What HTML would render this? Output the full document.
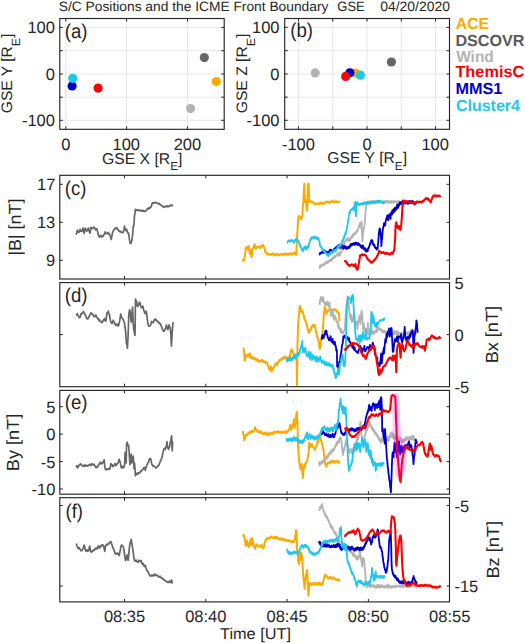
<!DOCTYPE html>
<html><head><meta charset="utf-8"><style>
html,body{margin:0;padding:0;background:#fff;}
svg{display:block;font-family:"Liberation Sans", sans-serif;text-rendering:geometricPrecision;}
</style></head><body>
<svg width="525" height="643" viewBox="0 0 525 643">
<defs><clipPath id="cp0"><rect x="59.8" y="175.3" width="389.70" height="103.70"/></clipPath><clipPath id="cp1"><rect x="59.8" y="282.6" width="389.70" height="104.10"/></clipPath><clipPath id="cp2"><rect x="59.8" y="390.4" width="389.70" height="103.80"/></clipPath><clipPath id="cp3"><rect x="59.8" y="497.7" width="389.70" height="104.20"/></clipPath></defs>
<rect width="525" height="643" fill="#fff"/>
<text transform="translate(58.83 10.80) scale(1.0205 1)" font-size="13.5" fill="#262626">S/C Positions and the ICME Front Boundary</text>
<text transform="translate(337.30 10.80) scale(0.9608 1)" font-size="13.5" fill="#262626">GSE</text>
<text transform="translate(380.23 10.80) scale(1.0307 1)" font-size="13.5" fill="#262626">04/20/2020</text>
<line x1="59.8" y1="27.4" x2="224.2" y2="27.4" stroke="#e6e6e6" stroke-width="1"/>
<line x1="59.8" y1="50.7" x2="224.2" y2="50.7" stroke="#e6e6e6" stroke-width="1"/>
<line x1="59.8" y1="74.0" x2="224.2" y2="74.0" stroke="#e6e6e6" stroke-width="1"/>
<line x1="59.8" y1="97.2" x2="224.2" y2="97.2" stroke="#e6e6e6" stroke-width="1"/>
<line x1="59.8" y1="120.3" x2="224.2" y2="120.3" stroke="#e6e6e6" stroke-width="1"/>
<line x1="65.8" y1="18.5" x2="65.8" y2="129.3" stroke="#e6e6e6" stroke-width="1"/>
<line x1="126.6" y1="18.5" x2="126.6" y2="129.3" stroke="#e6e6e6" stroke-width="1"/>
<line x1="187.5" y1="18.5" x2="187.5" y2="129.3" stroke="#e6e6e6" stroke-width="1"/>
<circle cx="204.3" cy="57.6" r="4.6" fill="#666666"/>
<circle cx="216.3" cy="81.6" r="4.6" fill="#fcaa00"/>
<circle cx="190.65" cy="108.6" r="4.6" fill="#b3b3b3"/>
<circle cx="98.1" cy="88.1" r="4.6" fill="#ff0000"/>
<circle cx="72.1" cy="85.9" r="4.6" fill="#0000cc"/>
<circle cx="72.7" cy="78.3" r="4.6" fill="#1fc8ea"/>
<rect x="59.8" y="18.5" width="164.40" height="110.80" fill="none" stroke="#262626" stroke-width="1.15"/>
<line x1="59.8" y1="27.4" x2="62.8" y2="27.4" stroke="#262626" stroke-width="1.0"/>
<line x1="221.2" y1="27.4" x2="224.2" y2="27.4" stroke="#262626" stroke-width="1.0"/>
<line x1="59.8" y1="50.7" x2="62.8" y2="50.7" stroke="#262626" stroke-width="1.0"/>
<line x1="221.2" y1="50.7" x2="224.2" y2="50.7" stroke="#262626" stroke-width="1.0"/>
<line x1="59.8" y1="74.0" x2="62.8" y2="74.0" stroke="#262626" stroke-width="1.0"/>
<line x1="221.2" y1="74.0" x2="224.2" y2="74.0" stroke="#262626" stroke-width="1.0"/>
<line x1="59.8" y1="97.2" x2="62.8" y2="97.2" stroke="#262626" stroke-width="1.0"/>
<line x1="221.2" y1="97.2" x2="224.2" y2="97.2" stroke="#262626" stroke-width="1.0"/>
<line x1="59.8" y1="120.3" x2="62.8" y2="120.3" stroke="#262626" stroke-width="1.0"/>
<line x1="221.2" y1="120.3" x2="224.2" y2="120.3" stroke="#262626" stroke-width="1.0"/>
<line x1="65.8" y1="129.3" x2="65.8" y2="126.30000000000001" stroke="#262626" stroke-width="1.0"/>
<line x1="65.8" y1="18.5" x2="65.8" y2="21.5" stroke="#262626" stroke-width="1.0"/>
<line x1="126.6" y1="129.3" x2="126.6" y2="126.30000000000001" stroke="#262626" stroke-width="1.0"/>
<line x1="126.6" y1="18.5" x2="126.6" y2="21.5" stroke="#262626" stroke-width="1.0"/>
<line x1="187.5" y1="129.3" x2="187.5" y2="126.30000000000001" stroke="#262626" stroke-width="1.0"/>
<line x1="187.5" y1="18.5" x2="187.5" y2="21.5" stroke="#262626" stroke-width="1.0"/>
<text x="27.40" y="33.20" font-size="16.5" fill="#262626">100</text>
<text x="45.76" y="79.80" font-size="16.5" fill="#262626">0</text>
<text x="21.92" y="126.10" font-size="16.5" fill="#262626">-100</text>
<text x="61.22" y="149.80" font-size="16.5" fill="#262626">0</text>
<text x="112.53" y="149.80" font-size="16.5" fill="#262626">100</text>
<text x="173.64" y="149.80" font-size="16.5" fill="#262626">200</text>
<text transform="translate(64.69 37.50) scale(0.93 1)" font-size="20" fill="#262626">(a)</text>
<text transform="translate(101.96 163.50) scale(1.0101 1)" font-size="15.6" fill="#262626">GSE X [R<tspan font-size="11.6" dy="6.7">E</tspan><tspan dy="-6.7">]</tspan></text>
<text transform="translate(12.10 113.23) rotate(-90) scale(1.0259 1)" font-size="15.2" fill="#262626">GSE Y [R<tspan font-size="12.0" dy="7.8">E</tspan><tspan dy="-7.8">]</tspan></text>
<line x1="284.7" y1="27.4" x2="449.5" y2="27.4" stroke="#e6e6e6" stroke-width="1"/>
<line x1="284.7" y1="50.7" x2="449.5" y2="50.7" stroke="#e6e6e6" stroke-width="1"/>
<line x1="284.7" y1="74.0" x2="449.5" y2="74.0" stroke="#e6e6e6" stroke-width="1"/>
<line x1="284.7" y1="97.2" x2="449.5" y2="97.2" stroke="#e6e6e6" stroke-width="1"/>
<line x1="284.7" y1="120.3" x2="449.5" y2="120.3" stroke="#e6e6e6" stroke-width="1"/>
<line x1="298.5" y1="18.5" x2="298.5" y2="129.3" stroke="#e6e6e6" stroke-width="1"/>
<line x1="332.75" y1="18.5" x2="332.75" y2="129.3" stroke="#e6e6e6" stroke-width="1"/>
<line x1="367.0" y1="18.5" x2="367.0" y2="129.3" stroke="#e6e6e6" stroke-width="1"/>
<line x1="401.25" y1="18.5" x2="401.25" y2="129.3" stroke="#e6e6e6" stroke-width="1"/>
<line x1="435.5" y1="18.5" x2="435.5" y2="129.3" stroke="#e6e6e6" stroke-width="1"/>
<circle cx="315.2" cy="72.9" r="4.6" fill="#b3b3b3"/>
<circle cx="391.4" cy="62.0" r="4.6" fill="#666666"/>
<circle cx="355.7" cy="73.0" r="4.6" fill="#fcaa00"/>
<circle cx="349.9" cy="72.8" r="4.6" fill="#0000cc"/>
<circle cx="345.7" cy="76.4" r="4.6" fill="#ff0000"/>
<circle cx="360.4" cy="75.2" r="4.6" fill="#1fc8ea"/>
<rect x="284.7" y="18.5" width="164.80" height="110.80" fill="none" stroke="#262626" stroke-width="1.15"/>
<line x1="284.7" y1="27.4" x2="287.7" y2="27.4" stroke="#262626" stroke-width="1.0"/>
<line x1="446.5" y1="27.4" x2="449.5" y2="27.4" stroke="#262626" stroke-width="1.0"/>
<line x1="284.7" y1="50.7" x2="287.7" y2="50.7" stroke="#262626" stroke-width="1.0"/>
<line x1="446.5" y1="50.7" x2="449.5" y2="50.7" stroke="#262626" stroke-width="1.0"/>
<line x1="284.7" y1="74.0" x2="287.7" y2="74.0" stroke="#262626" stroke-width="1.0"/>
<line x1="446.5" y1="74.0" x2="449.5" y2="74.0" stroke="#262626" stroke-width="1.0"/>
<line x1="284.7" y1="97.2" x2="287.7" y2="97.2" stroke="#262626" stroke-width="1.0"/>
<line x1="446.5" y1="97.2" x2="449.5" y2="97.2" stroke="#262626" stroke-width="1.0"/>
<line x1="284.7" y1="120.3" x2="287.7" y2="120.3" stroke="#262626" stroke-width="1.0"/>
<line x1="446.5" y1="120.3" x2="449.5" y2="120.3" stroke="#262626" stroke-width="1.0"/>
<line x1="298.5" y1="129.3" x2="298.5" y2="126.30000000000001" stroke="#262626" stroke-width="1.0"/>
<line x1="298.5" y1="18.5" x2="298.5" y2="21.5" stroke="#262626" stroke-width="1.0"/>
<line x1="332.75" y1="129.3" x2="332.75" y2="126.30000000000001" stroke="#262626" stroke-width="1.0"/>
<line x1="332.75" y1="18.5" x2="332.75" y2="21.5" stroke="#262626" stroke-width="1.0"/>
<line x1="367.0" y1="129.3" x2="367.0" y2="126.30000000000001" stroke="#262626" stroke-width="1.0"/>
<line x1="367.0" y1="18.5" x2="367.0" y2="21.5" stroke="#262626" stroke-width="1.0"/>
<line x1="401.25" y1="129.3" x2="401.25" y2="126.30000000000001" stroke="#262626" stroke-width="1.0"/>
<line x1="401.25" y1="18.5" x2="401.25" y2="21.5" stroke="#262626" stroke-width="1.0"/>
<line x1="435.5" y1="129.3" x2="435.5" y2="126.30000000000001" stroke="#262626" stroke-width="1.0"/>
<line x1="435.5" y1="18.5" x2="435.5" y2="21.5" stroke="#262626" stroke-width="1.0"/>
<text x="252.00" y="33.20" font-size="16.5" fill="#262626">100</text>
<text x="270.36" y="79.80" font-size="16.5" fill="#262626">0</text>
<text x="246.52" y="126.10" font-size="16.5" fill="#262626">-100</text>
<text x="281.94" y="149.80" font-size="16.5" fill="#262626">-100</text>
<text x="362.42" y="149.80" font-size="16.5" fill="#262626">0</text>
<text x="421.43" y="149.80" font-size="16.5" fill="#262626">100</text>
<text transform="translate(290.19 37.30) scale(0.93 1)" font-size="20" fill="#262626">(b)</text>
<text transform="translate(327.36 163.30) scale(1.0071 1)" font-size="15.6" fill="#262626">GSE Y [R<tspan font-size="11.6" dy="6.7">E</tspan><tspan dy="-6.7">]</tspan></text>
<text transform="translate(246.90 113.23) rotate(-90) scale(1.0301 1)" font-size="15.2" fill="#262626">GSE Z [R<tspan font-size="12.0" dy="7.8">E</tspan><tspan dy="-7.8">]</tspan></text>
<text transform="translate(455.76 29.30) scale(0.9860 1)" font-size="16" font-weight="bold" fill="#fcaa00">ACE</text>
<text transform="translate(455.46 45.60) scale(1.0084 1)" font-size="16" font-weight="bold" fill="#5a5a5a">DSCOVR</text>
<text transform="translate(456.15 61.60) scale(0.9652 1)" font-size="16" font-weight="bold" fill="#b3b3b3">Wind</text>
<text transform="translate(455.39 77.40) scale(1.0200 1)" font-size="16" font-weight="bold" fill="#ff0000">ThemisC</text>
<text transform="translate(455.45 94.20) scale(1.0152 1)" font-size="16" font-weight="bold" fill="#0000cc">MMS1</text>
<text transform="translate(455.91 110.80) scale(0.9997 1)" font-size="16" font-weight="bold" fill="#1fc8ea">Cluster4</text>
<g clip-path="url(#cp0)" fill="none" stroke-width="1.7" stroke-linejoin="round">
<polyline points="75.9,234.6 76.6,233.2 77.3,230.2 78.1,231.9 78.8,232.4 79.4,231.5 80.1,229.2 80.8,231.1 81.5,231.5 82.3,230.2 83.0,228.0 83.6,231.4 84.2,233.3 84.7,231.3 85.1,228.2 85.6,229.7 86.2,229.7 86.8,231.2 87.3,229.3 87.9,229.1 88.4,228.0 89.2,231.3 89.9,233.2 90.4,230.9 91.0,227.3 91.5,228.1 92.1,228.0 92.6,228.7 93.4,227.4 94.1,227.2 94.8,228.0 95.6,229.8 96.2,228.8 96.8,228.8 97.6,231.4 98.3,234.9 98.8,235.4 99.3,237.3 99.9,236.2 100.5,236.4 101.0,235.3 101.7,236.9 102.5,236.7 103.2,236.1 103.9,234.4 104.6,234.0 105.2,231.8 105.9,233.3 106.7,233.3 107.4,233.7 108.1,232.5 108.7,233.8 109.3,233.6 109.8,235.3 110.5,236.6 111.3,239.4 111.9,235.7 112.5,232.9 113.3,230.7 114.0,229.9 114.6,228.9 115.1,229.0 115.7,227.7 116.4,228.5 117.1,227.8 117.9,229.7 118.6,230.3 119.2,231.4 119.7,231.0 120.3,232.0 120.8,231.5 121.4,232.2 122.0,232.2 122.7,232.7 123.4,231.7 124.0,229.7 124.5,226.1 125.0,228.7 125.5,230.3 126.0,230.6 126.6,229.1 127.1,231.5 127.6,232.2 128.1,233.5 128.7,233.4 129.1,237.4 129.5,239.7 129.9,242.1 130.3,243.4 130.9,243.5 131.4,242.2 131.9,240.0 132.4,236.4 132.9,232.1 133.3,225.9 133.9,225.8 134.5,215.5 135.0,213.2 135.4,209.3 135.9,210.1 136.5,209.8 137.0,210.6 137.7,209.8 138.4,210.4 139.1,210.0 139.8,210.8 140.5,210.3 141.2,211.0 141.9,210.4 142.6,211.1 143.3,210.3 143.9,211.2 144.5,211.0 145.0,211.6 145.7,210.5 146.5,210.5 147.2,208.9 147.9,209.1 148.5,207.9 149.1,208.7 149.6,207.8 150.2,208.0 150.7,206.6 151.3,206.7 151.7,204.8 152.1,203.5 152.7,202.7 153.3,203.2 153.8,202.6 154.5,203.1 155.2,202.3 155.9,202.7 156.6,202.6 157.3,203.4 158.0,203.2 158.7,204.0 159.4,203.6 160.1,204.7 160.8,204.7 161.5,205.7 162.2,205.8 162.7,206.6 163.3,206.4 163.9,207.3 164.6,206.7 165.3,207.0 166.1,206.0 166.8,206.3 167.4,205.9 167.9,206.9 168.5,206.4 169.0,206.3 169.6,205.6 170.2,205.9 170.9,205.1 171.6,205.5 172.1,205.1 172.7,206.3" stroke="#666666" stroke-width="1.7"/>
<polyline points="242.6,259.2 243.1,261.0 243.6,260.7 244.1,259.5 244.7,257.2 245.2,253.6 245.7,247.9 246.2,248.1 246.8,246.8 247.3,248.8 247.8,249.0 248.3,248.0 248.9,245.9 249.4,250.8 249.9,254.1 250.4,253.2 251.0,249.8 251.6,257.1 252.0,252.7 252.4,249.6 252.9,248.2 253.5,247.4 254.0,245.3 254.5,244.4 255.0,245.9 255.6,248.9 256.2,247.4 256.8,247.7 257.6,246.5 258.3,246.4 259.0,246.8 259.8,248.1 260.3,247.0 260.9,247.4 261.4,245.8 262.0,246.1 262.5,245.0 263.1,245.7 263.6,245.7 264.2,247.9 264.7,248.9 265.2,252.0 265.9,252.2 266.7,254.2 267.4,253.2 268.1,254.2 268.8,253.7 269.5,254.8 270.2,254.1 270.9,255.0 271.6,253.9 272.3,254.5 273.0,253.2 273.7,254.6 274.3,254.2 275.0,255.6 275.7,254.2 276.4,254.8 277.1,253.8 277.8,255.1 278.5,254.3 279.2,255.4 279.9,254.5 280.6,254.8 281.3,253.7 282.0,254.6 282.7,253.9 283.4,254.9 284.1,253.8 284.8,254.5 285.5,253.4 286.2,254.5 286.9,253.7 287.6,254.6 288.3,253.5 289.0,254.2 289.7,253.3 290.4,254.0 291.1,253.6 291.8,254.8 292.5,253.3 293.2,253.5 293.9,252.4 294.6,254.0 295.3,253.5 296.0,254.8 296.6,247.8 297.0,238.0 297.7,226.9 298.3,217.2 298.7,216.1 299.1,216.4 299.7,216.2 300.2,217.3 300.7,217.4 301.2,219.3 301.8,217.2 302.3,216.4 302.9,206.1 303.3,202.7 303.8,191.6 304.4,183.7 305.0,202.0 305.4,201.7 305.8,200.0 306.5,207.0 307.1,210.5 307.5,202.7 307.9,184.3 308.6,183.6 309.2,201.7 309.9,201.9 310.7,201.0 311.4,202.0 312.1,201.6 312.8,202.4 313.5,202.3 314.2,203.8 314.9,204.2 315.6,204.3 316.3,203.2 317.0,203.8 317.7,203.3 318.3,204.0 319.0,203.8 319.7,203.9 320.4,202.6 321.1,203.2 321.8,202.5 322.5,204.0 323.2,203.3 323.9,203.8 324.6,202.4 325.3,202.5 326.0,201.6 326.7,202.2 327.4,201.6 328.1,202.5 328.8,201.8 329.5,202.9 330.2,201.7 330.9,202.0 331.6,200.8 332.3,201.7 333.0,201.3 333.7,202.5 334.4,201.5 335.1,201.9 335.8,201.1 336.5,202.0 337.2,201.7 337.9,202.4 338.6,201.7 339.3,201.8 340.0,201.0" stroke="#fcaa00" stroke-width="2.0"/>
<polyline points="319.0,267.7 319.6,268.0 320.1,265.5 320.8,266.7 321.5,264.5 322.2,265.4 322.9,264.5 323.6,265.5 324.3,263.5 325.0,264.1 325.7,261.8 326.4,263.3 327.1,261.3 327.8,262.9 328.5,261.0 329.2,261.7 329.9,259.6 330.6,261.0 331.3,258.7 332.0,260.2 332.7,257.9 333.4,258.4 334.1,256.4 334.8,257.6 335.5,255.8 336.2,256.3 336.9,254.5 337.6,255.4 338.3,252.6 339.0,253.7 338.7,254.2 339.2,255.9 339.7,253.5 340.2,254.7 340.7,251.7 341.3,252.3 341.8,248.7 342.3,248.7 342.8,246.4 343.3,245.8 343.8,243.0 344.3,244.0 344.8,241.3 345.3,242.0 345.8,239.9 346.3,240.6 346.8,239.1 347.3,240.3 347.9,238.3 348.4,240.6 348.9,238.7 349.4,241.2 349.9,238.3 350.4,240.2 350.9,237.5 351.4,238.1 351.9,235.8 352.4,237.4 352.9,234.5 353.4,236.0 354.0,233.6 354.5,234.6 355.0,232.5 355.5,233.9 356.0,232.0 356.5,232.4 357.0,230.4 357.4,231.7 357.8,228.9 358.1,229.6 358.5,227.1 358.9,227.0 359.3,224.9 359.7,225.8 360.0,222.8 360.4,226.5 360.8,227.6 361.2,225.8 361.6,221.4 362.0,232.9 362.3,241.1 362.7,238.2 363.1,230.8 363.5,231.3 363.9,228.0 364.2,227.3 364.6,224.6 365.0,219.7 365.4,212.8 365.8,210.1 366.1,204.8 366.5,204.6 366.9,202.3 367.5,203.7 368.0,201.9 368.6,203.6 369.2,201.1 369.8,202.9 370.5,201.5 371.1,202.9 371.8,201.1 372.5,202.9 373.1,201.1 373.8,202.7 374.4,200.6 375.1,202.6 375.8,201.2 376.5,202.9 377.1,201.4 377.8,202.4 378.5,200.6 379.2,202.6 379.9,201.0 380.5,202.1 381.2,201.2 381.9,202.7 382.6,201.6 383.2,202.7 383.9,201.0 384.6,202.2 385.3,201.0 386.0,202.6 386.6,200.9 387.3,202.5 388.0,200.9 388.7,202.9 389.3,201.6 390.0,202.2 390.7,200.9 391.4,203.1 392.0,201.3 392.7,202.6 393.4,201.0 394.1,202.4 394.8,201.2 395.4,202.4 396.1,201.2 396.8,202.7 397.5,201.3 398.1,202.5 398.8,201.0 399.4,202.4 400.0,201.5" stroke="#b3b3b3" stroke-width="1.8"/>
<polyline points="319.0,254.1 319.6,254.5 320.1,252.8 320.8,253.5 321.5,252.2 322.2,252.9 322.9,250.5 323.6,252.9 324.3,250.3 325.0,252.4 325.7,251.3 326.4,253.1 327.1,251.9 327.8,252.7 328.5,251.6 329.2,252.9 329.9,249.7 330.6,251.6 331.3,249.6 332.0,251.6 332.7,250.8 333.4,251.8 334.1,248.9 334.8,250.7 335.5,247.4 336.2,248.4 336.9,246.3 337.6,247.6 338.3,245.0 339.0,245.7 338.7,246.0 339.2,247.2 339.7,245.4 340.2,248.1 340.7,245.6 341.3,246.9 341.8,244.7 342.3,247.5 342.8,245.8 343.3,248.8 343.8,246.4 344.3,247.8 344.8,245.8 345.3,248.1 345.8,247.4 346.3,249.0 346.8,246.9 347.3,248.2 347.9,247.2 348.4,248.3 348.9,246.5 349.4,247.7 349.9,245.5 350.4,246.5 350.9,243.8 351.4,245.5 351.9,244.0 352.4,245.0 352.9,243.3 353.4,244.6 354.0,243.1 354.5,244.8 355.0,242.9 355.5,244.4 356.0,242.5 356.5,244.6 357.0,244.2 357.5,244.8 358.0,242.8 358.5,244.8 359.0,243.7 359.5,245.4 360.0,244.8 360.6,246.6 361.1,246.0 361.6,247.9 362.1,245.5 362.6,248.2 363.1,245.7 363.6,249.0 364.1,248.0 364.6,249.7 365.1,248.2 365.6,251.3 366.1,249.9 366.7,251.7 367.2,249.1 367.7,251.1 368.2,248.2 368.7,248.3 369.2,246.0 369.7,245.7 370.2,243.0 370.7,243.6 371.1,240.4 371.5,240.3 371.9,240.0 372.2,241.2 372.6,241.0 373.0,244.5 373.4,243.9 373.8,245.7 374.3,244.6 374.8,247.6 375.3,247.0 375.8,248.4 376.3,248.2 376.8,249.6 377.2,247.6 377.6,248.8 378.0,244.2 378.3,241.6 378.7,234.8 379.1,231.5 379.5,228.5 379.9,228.7 380.2,229.2 380.6,233.9 381.0,237.8 381.4,246.1 381.8,240.9 382.1,238.4 382.5,232.8 382.9,229.3 383.3,226.4 383.7,226.8 384.0,223.1 384.4,224.1 384.8,223.6 385.2,225.3 385.6,221.5 386.0,219.9 386.3,218.1 386.7,219.1 387.1,215.9 387.5,215.2 387.9,215.7 388.2,220.3 388.6,216.4 389.0,217.1 389.4,214.2 389.8,215.9 390.1,215.1 390.5,219.0 390.9,214.0 391.3,212.2 391.7,212.0 392.0,214.6 392.4,210.1 392.8,210.8 393.2,209.9 393.6,212.8 394.0,208.6 394.3,209.0 394.7,207.9 395.1,211.1 395.5,207.7 395.9,208.3 396.2,207.0 396.6,209.3 397.0,205.0 397.4,205.3 397.8,204.3 398.1,207.8 398.5,205.0 398.9,206.0 399.3,203.6 399.7,204.6 400.0,202.0 400.4,203.7 400.8,202.6 401.2,203.9 401.7,201.9 402.2,203.3 402.7,200.7 402.7,205.0 403.3,203.0 404.0,203.7 404.7,202.0 405.3,203.5 406.0,201.8 406.7,203.4 407.3,201.6 408.0,203.9 408.7,201.2 409.3,203.3 410.0,200.9 410.7,202.6 411.3,201.1 412.0,202.9 412.7,201.0 413.3,203.5 414.0,202.2 414.7,204.6 415.3,203.0 416.0,203.3 416.7,201.6 417.3,202.9" stroke="#0000cc" stroke-width="1.8"/>
<polyline points="287.0,243.3 287.6,242.5 288.4,240.4 289.1,240.8 289.6,240.4 290.2,241.5 290.8,240.4 291.3,241.5 291.9,239.8 292.4,240.8 293.2,240.6 293.9,242.9 294.6,240.2 295.4,240.5 296.0,238.8 296.6,239.7 297.4,239.3 298.1,241.0 298.6,240.9 299.1,243.5 299.8,243.8 300.4,247.0 301.0,246.9 301.7,249.9 302.3,249.6 302.9,251.3 303.3,248.5 303.8,248.9 304.4,247.0 305.0,246.6 305.4,247.1 305.8,249.8 306.3,246.8 306.7,246.9 307.1,246.4 307.5,248.0 308.0,246.0 308.6,246.8 309.1,243.0 309.6,242.7 310.1,239.7 310.7,239.7 311.2,237.5 311.7,238.9 312.2,237.4 312.8,237.9 313.3,237.1 313.8,238.7 314.3,236.8 314.9,237.1 315.4,236.4 315.9,238.5 316.4,237.9 317.0,239.2 317.5,237.5 318.0,237.8 318.5,238.1 319.0,240.3 319.6,242.2 320.1,246.1 320.6,245.4 321.1,247.5 321.7,247.5 322.2,249.6 322.7,249.2 323.2,251.0 323.8,250.0 324.3,251.9 324.8,251.5 325.3,253.1 325.9,252.7 326.4,254.6 326.9,253.8 327.4,255.2 328.0,254.3 328.5,256.2 329.0,253.9 329.5,254.6 330.0,252.5 330.6,253.9 331.1,252.0 331.6,253.5 332.1,251.7 332.7,253.0 333.2,250.9 333.7,252.1 334.2,250.1 334.8,250.8 335.3,249.9 335.8,251.1 336.3,248.8 336.9,248.8 337.4,247.2 337.9,248.1 338.0,245.7 338.5,246.3 339.0,245.7 339.5,246.7 340.0,245.0 340.5,245.5 341.0,243.9 341.4,244.4 341.8,241.8 342.1,242.0 342.5,239.8 342.9,240.7 343.3,238.8 343.7,239.0 344.0,237.1 344.4,236.6 344.8,234.4 345.2,234.5 345.6,232.2 346.0,232.8 346.3,230.8 346.7,230.3 347.1,226.0 347.5,225.2 347.9,221.7 348.2,220.6 348.6,217.3 349.0,216.2 349.4,212.4 349.8,213.1 350.1,210.6 350.5,210.8 350.9,209.7 351.3,210.1 351.7,209.2 352.0,209.9 352.4,208.4 352.8,209.1 353.2,207.4 353.6,208.6 354.0,206.3 354.4,210.5 354.7,203.8 355.2,202.1 355.5,208.0 355.9,216.1 356.4,203.3 357.0,202.7 357.4,202.0 357.8,204.0 358.1,203.5 358.5,204.7 359.0,203.9 359.5,205.1 360.0,203.7 360.6,204.6 361.1,203.3 361.6,204.1 362.1,203.4 362.6,204.3 363.1,202.8 363.6,204.2 364.1,202.3 364.6,203.7 365.1,202.5 365.6,203.6 366.1,202.3 366.7,203.4 367.2,201.9 367.7,203.9 368.2,201.9 368.7,203.3 369.2,201.8 369.7,203.4 370.2,202.1 370.7,203.3 371.3,201.4 371.9,202.9 372.5,201.5 373.2,202.9 373.8,201.9 374.4,203.0 375.0,201.9 375.6,202.9 376.2,200.9 376.8,202.3 377.4,200.9 378.0,202.1 378.6,200.9 379.2,202.3 379.9,200.8 380.5,202.5 381.1,201.1 381.7,202.4 382.3,201.9 382.9,203.2 383.4,201.6 383.9,203.0 384.4,202.1" stroke="#1fc8ea" stroke-width="1.8"/>
<polyline points="344.5,260.2 345.1,261.4 345.7,261.1 346.3,262.5 346.8,262.4 347.3,264.0 347.9,264.2 348.4,265.1 348.9,264.9 349.4,266.2 349.9,265.2 350.4,265.5 350.9,264.8 351.4,265.0 351.9,264.3 352.4,264.6 352.9,265.0 353.4,266.0 354.0,266.4 354.3,266.3 354.7,264.7 355.1,264.9 355.5,263.9 355.9,266.4 356.2,267.8 356.6,269.0 357.0,269.6 357.4,269.7 357.8,268.7 358.1,267.2 358.5,264.6 358.9,263.2 359.3,260.3 359.7,258.7 360.0,255.6 360.6,255.8 361.1,254.8 361.6,254.9 362.1,254.3 362.6,255.4 363.1,254.8 363.6,255.1 364.1,254.4 364.6,254.6 365.1,254.8 365.6,255.6 366.1,255.7 366.7,257.3 367.2,257.9 367.7,259.4 368.2,259.3 368.7,260.2 369.2,260.1 369.7,261.3 370.2,261.3 370.7,262.3 371.2,261.9 371.7,262.7 372.2,262.3 372.7,262.2 373.3,260.9 373.8,260.9 374.3,259.9 374.8,259.9 375.3,258.8 375.8,258.6 376.3,257.4 376.8,256.8 377.3,255.5 377.8,255.1 378.3,253.5 378.7,252.9 379.1,250.9 379.6,252.1 380.1,251.7 380.6,252.4 381.1,252.1 381.6,253.0 382.1,252.8 382.7,253.0 383.2,252.0 383.7,252.6 384.2,252.5 384.7,253.6 385.2,253.5 385.7,253.6 386.2,252.8 386.7,253.4 387.2,252.9 387.7,253.9 388.2,253.4 388.7,254.1 389.3,254.0 389.8,254.6 390.3,253.8 390.8,253.6 391.3,252.5 391.8,253.6 392.3,253.3 392.8,253.8 393.2,252.0 393.6,251.7 394.0,250.4 394.3,250.0 394.7,244.2 395.1,239.6 395.6,225.2 395.9,224.2 396.3,222.3 396.8,225.2 397.4,226.9 397.8,228.0 398.1,228.1 398.5,227.5 398.9,225.9 399.3,227.5 399.7,227.4 400.0,229.3 400.4,229.9 400.8,228.0 401.2,225.3 401.6,220.6 402.0,214.6 402.3,209.7 402.7,203.7 403.1,203.0 403.5,200.6 404.0,200.6 404.7,200.7 405.3,202.0 406.0,201.1 406.7,201.2 407.3,201.3 408.0,202.2 408.7,201.6 409.3,202.1 410.0,201.5 410.7,202.7 411.3,202.4 412.0,203.2 412.7,202.7 413.3,202.8 414.0,202.4 414.7,203.4 415.3,202.4 416.0,202.7 416.7,201.6 417.3,202.0 418.0,201.5 418.7,202.5 419.3,201.6 420.0,202.0 420.7,201.7 421.3,202.3 422.0,201.3 422.7,201.6 423.3,200.6 424.0,200.8 424.7,199.3 425.3,199.3 426.0,198.2 426.7,198.0 427.3,199.5 428.0,198.7 428.7,198.7 429.3,200.7 430.0,200.7 430.7,202.5 431.3,200.1 432.0,198.7 432.7,196.6 433.3,196.1 434.0,195.3 434.7,195.8 435.3,195.4 436.0,196.7 436.7,195.5 437.3,196.1 438.0,195.5 438.7,196.2 439.3,195.6 440.0,196.1 440.7,195.5" stroke="#ff0000" stroke-width="2.1"/>
</g>
<rect x="59.8" y="175.3" width="389.70" height="103.70" fill="none" stroke="#262626" stroke-width="1.15"/>
<line x1="124.5" y1="279.0" x2="124.5" y2="276.0" stroke="#262626" stroke-width="1.0"/>
<line x1="124.5" y1="175.3" x2="124.5" y2="178.3" stroke="#262626" stroke-width="1.0"/>
<line x1="205.8" y1="279.0" x2="205.8" y2="276.0" stroke="#262626" stroke-width="1.0"/>
<line x1="205.8" y1="175.3" x2="205.8" y2="178.3" stroke="#262626" stroke-width="1.0"/>
<line x1="287.1" y1="279.0" x2="287.1" y2="276.0" stroke="#262626" stroke-width="1.0"/>
<line x1="287.1" y1="175.3" x2="287.1" y2="178.3" stroke="#262626" stroke-width="1.0"/>
<line x1="368.40000000000003" y1="279.0" x2="368.40000000000003" y2="276.0" stroke="#262626" stroke-width="1.0"/>
<line x1="368.40000000000003" y1="175.3" x2="368.40000000000003" y2="178.3" stroke="#262626" stroke-width="1.0"/>
<g clip-path="url(#cp1)" fill="none" stroke-width="1.7" stroke-linejoin="round">
<polyline points="76.1,315.1 76.7,315.2 77.3,313.6 78.0,315.8 78.6,316.3 79.2,317.7 79.8,317.7 80.4,316.4 81.0,313.7 81.7,314.1 82.3,312.8 82.9,312.6 83.5,311.5 84.1,313.5 84.8,313.7 85.4,315.6 86.0,316.0 86.6,318.5 87.2,318.7 87.9,319.0 88.5,317.7 89.1,316.8 89.7,315.0 90.3,314.3 91.0,312.7 91.6,313.8 92.2,314.0 92.8,315.2 93.4,315.1 94.0,316.6 94.7,316.3 95.3,316.5 95.9,315.0 96.5,317.1 97.1,317.5 97.8,318.8 98.4,318.5 99.0,320.4 99.6,319.8 100.2,321.5 100.9,321.3 101.5,322.5 102.1,322.6 102.7,321.8 103.3,319.9 104.0,320.1 104.6,318.6 105.2,320.7 105.8,321.0 106.4,317.8 107.0,312.8 107.7,312.6 108.3,311.1 108.9,313.9 109.5,314.8 110.1,318.9 110.8,321.5 111.4,323.3 112.0,323.6 112.6,322.5 113.2,320.2 113.9,321.9 114.5,322.2 115.1,324.6 115.7,325.1 116.3,325.0 117.0,323.9 117.6,325.5 118.2,326.0 118.8,324.9 119.4,322.4 120.0,318.9 120.7,314.0 121.3,316.6 121.9,317.7 122.5,319.0 123.1,319.0 123.8,321.3 124.4,322.6 125.0,327.5 125.6,330.9 126.4,343.2 126.9,344.9 127.4,348.2 128.1,336.2 128.8,314.5 129.3,311.1 129.8,309.7 130.6,316.5 131.3,322.3 131.8,314.0 132.6,307.0 133.3,324.8 133.8,329.3 134.3,332.5 135.0,335.4 135.5,299.2 136.3,301.0 136.8,302.8 137.3,306.0 138.0,306.4 138.7,304.6 139.2,302.4 139.7,302.2 140.5,305.1 141.1,307.3 141.7,307.8 142.3,307.6 143.0,306.2 143.6,309.8 144.2,311.5 144.8,313.2 145.4,313.7 146.2,311.1 146.7,314.0 147.2,318.5 147.9,323.5 148.5,325.8 149.1,326.2 149.8,326.1 150.4,325.2 151.0,324.1 151.6,321.4 152.2,322.7 152.9,322.6 153.5,322.2 154.1,319.9 154.7,320.0 155.3,318.9 156.0,320.3 156.6,320.2 157.2,321.2 157.8,321.2 158.4,322.8 159.0,322.4 159.7,323.7 160.3,323.5 160.9,325.6 161.5,326.4 162.1,328.7 162.8,329.9 163.4,331.1 164.0,331.3 164.6,330.6 165.2,328.6 165.9,327.4 166.5,325.0 167.1,328.4 167.7,329.7 168.3,328.3 169.0,324.9 169.6,327.0 170.2,327.6 170.9,335.4 171.4,346.2 172.2,332.1 172.9,323.6 173.4,322.2" stroke="#666666" stroke-width="1.7"/>
<polyline points="243.0,349.7 243.6,348.5 244.2,352.8 244.7,360.8 245.2,357.3 245.7,354.6 246.2,354.5 246.8,355.9 247.3,355.4 247.8,356.8 248.3,354.9 248.9,354.8 249.4,353.6 249.9,353.6 250.4,355.1 251.0,358.0 251.5,356.7 252.0,356.9 252.5,357.3 253.0,359.0 253.6,357.7 254.1,357.8 254.6,357.9 255.1,359.7 255.7,358.8 256.2,359.1 256.7,359.1 257.2,360.7 257.8,359.6 258.3,360.6 258.8,360.6 259.3,362.0 259.9,360.9 260.4,360.9 260.9,360.4 261.4,361.4 262.0,360.1 262.5,360.1 263.0,360.6 263.5,362.2 264.0,361.1 264.6,361.5 265.1,361.5 265.6,363.0 266.1,362.0 266.7,362.2 267.2,362.9 267.7,365.4 268.2,365.7 268.8,368.4 269.3,368.6 269.8,370.3 270.3,367.4 270.9,366.3 271.4,368.2 271.9,371.3 272.4,369.7 273.0,369.3 273.5,367.4 274.0,367.2 274.5,365.7 275.0,365.3 275.6,363.4 276.1,363.1 276.6,363.5 277.1,365.1 277.7,362.9 278.2,362.1 278.7,360.9 279.2,361.0 279.8,359.6 280.3,359.6 280.8,359.4 281.3,360.2 281.9,358.4 282.4,357.9 282.9,357.8 283.4,358.8 284.0,357.2 284.5,356.7 285.0,356.3 285.5,357.6 286.0,357.9 286.6,360.1 287.1,358.8 287.6,359.1 288.1,357.1 288.7,356.6 289.2,356.4 289.7,358.0 290.2,354.2 290.8,351.4 291.3,349.6 291.8,349.4 292.3,350.4 292.9,352.3 293.4,353.6 293.9,355.8 294.4,355.7 295.0,358.1 295.5,356.5 296.0,356.5 296.6,361.3 297.0,385.2 297.5,344.3 298.1,324.4 298.6,318.4 299.1,313.8 299.8,305.7 300.2,307.6 300.6,307.9 301.2,311.9 301.8,310.2 302.3,310.5 302.8,311.6 303.3,314.0 303.9,315.8 304.4,319.3 304.9,319.3 305.4,321.2 306.0,321.8 306.5,324.1 307.0,325.7 307.5,328.4 308.0,329.7 308.6,332.8 309.1,331.6 309.6,331.8 310.1,329.8 310.7,329.4 311.2,327.7 311.7,327.7 312.2,325.6 312.8,325.4 313.3,324.9 313.8,326.6 314.3,325.0 314.9,325.3 315.4,327.7 315.9,331.8 316.4,333.3 317.0,336.9 317.5,337.2 318.0,338.9 318.5,340.2 319.0,343.2 319.7,348.9 320.1,348.5 320.5,346.4 321.1,339.1 321.7,336.9 322.2,337.1 322.7,329.8 323.2,324.4 323.9,313.1 324.3,310.5 324.7,306.8 325.3,308.5 325.9,310.2 326.4,313.9 326.9,312.0 327.4,311.8 328.0,310.6 328.5,310.7 329.2,309.4 329.9,309.9 330.6,309.0 331.3,309.9 332.0,309.6 332.7,310.8 333.4,309.7 334.1,309.8 334.8,309.0 335.5,310.4 336.2,310.1 336.9,311.8 337.6,311.4 338.3,313.0 339.0,313.3 339.2,320.4 339.5,317.6" stroke="#fcaa00" stroke-width="2.0"/>
<polyline points="319.0,304.2 319.6,304.4 320.1,299.4 320.6,301.0 321.1,297.0 321.7,300.6 322.2,301.3 322.7,301.1 323.2,297.2 323.8,302.0 324.3,302.7 324.8,304.2 325.3,302.1 325.9,305.6 326.4,304.4 326.9,305.4 327.4,301.5 328.0,304.8 328.5,305.5 329.0,306.8 329.5,302.3 330.0,310.4 330.6,311.7 331.1,316.1 331.6,313.6 332.1,315.1 332.7,310.5 333.2,317.3 333.7,318.5 334.2,319.8 334.8,315.3 335.3,318.7 335.8,317.7 336.3,321.3 336.9,320.9 337.4,323.4 337.9,322.2 337.8,326.6 338.5,324.4 339.2,329.3 339.9,327.9 340.6,332.2 341.3,329.2 342.0,333.4 342.7,332.2 343.4,333.3 344.1,330.5 344.8,330.4 345.5,317.2 346.2,307.9 346.9,299.8 347.3,299.4 347.6,296.4 348.0,305.2 348.4,301.8 349.0,307.6 349.7,314.5 350.4,319.0 351.1,314.7 351.8,322.2 352.5,321.6 353.2,319.0 353.9,312.2 354.6,321.3 355.3,324.5 356.0,322.8 356.7,321.9 357.4,329.5 358.1,320.7 358.8,320.0 359.5,315.5 360.2,324.0 360.9,316.2 361.6,310.6 362.3,315.8 363.0,329.5 363.7,323.3 364.4,330.7 365.1,331.3 365.8,328.3 366.5,329.2 367.2,333.5 367.9,322.8 368.6,334.7 369.3,329.2 370.0,333.3 370.7,333.8 371.4,332.1 372.1,331.0 372.8,334.2 373.5,330.6 374.2,333.5 374.9,332.8 375.6,332.0 376.3,329.3 377.0,332.0 377.7,327.9 378.3,328.3 379.0,328.0 379.7,330.3 380.4,328.6 381.1,330.4 381.8,329.8 382.5,332.6 383.2,330.3 383.9,332.1 384.6,330.5 385.3,332.8 385.9,331.5 386.5,333.8 387.1,332.0 387.8,335.0 388.4,332.6 389.0,333.6 389.7,332.1 390.3,335.9 390.9,331.5 391.5,332.6 392.2,330.6 392.8,333.6 393.4,332.5 394.1,334.5 394.7,330.8 395.3,333.6 395.9,331.6 396.6,334.2 397.2,331.2 397.8,334.1 398.5,332.3 399.1,334.9 399.7,332.8 400.3,334.2 401.0,332.9 401.6,334.9 402.2,332.9 402.9,333.7 403.5,333.1 404.1,336.2 404.7,332.9 405.4,334.3 406.0,332.0 406.6,334.0 407.3,332.5 407.9,335.2 408.5,332.4 409.1,333.5 409.8,331.3 410.4,332.7 411.0,330.0 411.7,332.0 412.3,329.4 412.9,331.5 413.5,330.5 414.2,333.1 414.8,332.2 415.4,333.9 416.1,332.0 416.7,333.8" stroke="#b3b3b3" stroke-width="1.8"/>
<polyline points="321.1,339.1 321.7,338.9 322.2,335.2 322.7,338.6 323.2,338.0 323.8,337.9 324.3,334.0 324.8,335.0 325.3,330.9 325.9,333.4 326.4,330.6 326.9,334.6 327.4,335.2 328.0,338.2 328.5,337.9 329.0,340.2 329.5,339.2 330.0,340.5 330.6,336.2 331.1,340.7 331.6,341.3 332.1,342.2 332.7,339.0 333.2,343.1 333.7,344.0 334.2,344.2 334.8,341.7 335.3,345.6 335.8,345.9 336.3,350.6 336.9,350.0 337.1,366.4 337.8,366.9 338.5,367.8 339.2,361.8 339.9,361.5 340.6,355.4 341.3,352.0 342.0,345.4 342.7,343.3 343.4,336.3 344.1,336.0 344.8,335.5 345.5,338.5 346.2,337.5 346.9,338.7 347.6,337.1 348.3,340.0 349.0,338.0 349.7,342.4 350.4,342.1 351.1,345.4 351.8,345.0 352.5,347.9 353.2,345.1 353.9,349.5 354.6,347.4 355.3,350.9 356.0,350.9 356.7,352.3 357.4,351.5 358.1,353.0 358.8,349.3 359.5,349.2 360.2,345.9 360.9,351.5 361.6,347.8 362.3,352.0 363.0,349.2 363.7,349.5 364.4,345.9 365.1,351.6 365.8,350.3 366.5,349.4 367.2,347.0 367.9,347.4 368.6,347.2 369.3,350.7 370.0,345.0 370.7,349.7 371.4,345.8 372.1,346.3 372.8,342.7 373.5,345.9 374.2,346.3 374.9,353.8 375.6,355.8 376.3,356.8 377.0,357.3 377.7,363.4 378.3,365.1 379.0,363.1 379.7,366.2 380.4,361.1 381.1,353.5 381.8,363.5 382.5,356.0 383.2,351.4 383.9,347.7 384.0,353.5 384.6,346.4 385.3,339.1 385.9,342.5 386.5,334.1 387.1,337.4 387.8,331.3 388.4,334.4 389.0,328.5 389.7,336.7 390.3,333.2 390.9,328.3 391.5,328.0 392.2,340.7 392.8,351.8 393.4,351.6 394.1,344.7 394.7,339.5 395.3,338.8 395.9,341.5 396.6,339.7 397.2,336.1 397.8,342.0 398.5,336.3 399.1,336.5 399.7,337.3 400.3,337.8 401.0,334.1 401.6,341.0 402.2,342.5 402.9,339.5 403.5,336.0 404.1,334.7 404.7,327.0 405.4,338.7 406.0,338.0 406.6,341.7 407.3,336.9 407.9,337.8 408.5,336.8 409.1,339.0 409.8,334.7 410.4,337.0 411.0,332.5 411.7,333.8 412.3,330.4 412.9,331.2 413.5,352.8 413.9,348.6 414.4,337.1 414.8,335.0 415.4,330.4 416.1,325.6 416.4,320.4 416.9,322.9 417.3,328.4 417.7,332.7" stroke="#0000cc" stroke-width="1.8"/>
<polyline points="286.6,360.1 287.1,361.4 287.6,358.3 288.1,361.0 288.7,358.4 289.2,360.2 289.7,358.6 290.2,360.5 290.8,357.7 291.3,360.3 291.8,358.6 292.3,359.9 292.9,356.9 293.4,357.6 293.9,354.8 294.4,358.3 295.0,357.8 295.5,358.4 296.0,354.1 296.5,356.4 297.0,355.3 297.6,356.1 298.1,352.7 298.6,355.0 299.1,353.8 299.7,352.5 300.2,348.6 300.7,348.6 301.2,345.2 301.8,345.8 302.3,341.0 302.9,352.1 303.3,347.8 303.8,348.5 304.4,351.9 304.9,351.7 305.4,347.9 306.0,352.9 306.5,353.7 307.0,356.3 307.5,355.8 308.0,355.9 308.6,351.6 309.1,356.8 309.6,358.9 310.1,357.9 310.7,352.2 311.2,357.9 311.7,360.1 312.2,359.0 312.8,354.6 313.3,357.8 313.8,358.1 314.3,359.0 314.9,356.3 315.4,360.5 315.9,361.6 316.4,361.4 317.0,356.3 317.5,360.5 318.0,360.6 318.5,361.5 319.0,358.3 319.6,359.0 320.1,356.4 320.6,360.2 321.1,360.0 321.7,362.8 322.2,360.1 322.7,362.2 323.2,361.3 323.8,363.3 324.3,361.2 324.8,364.5 325.3,363.1 325.9,364.7 326.4,361.8 326.9,365.4 327.4,364.1 328.0,365.5 328.5,362.9 329.0,364.9 329.5,363.5 330.0,366.3 330.6,365.1 331.1,366.2 331.6,364.4 332.1,366.6 332.7,365.1 333.2,369.1 333.7,368.2 334.2,373.2 334.8,373.3 335.3,377.0 335.8,378.0 336.3,376.8 336.9,373.6 337.4,372.8 337.9,368.4 337.8,371.8 338.5,374.6 339.2,373.7 339.9,363.9 340.6,363.5 341.3,358.5 342.0,359.4 342.7,354.6 343.4,363.9 344.1,366.6 344.8,365.5 345.5,354.7 345.9,347.5 346.2,331.1 346.6,318.9 347.0,305.1 347.6,302.3 348.3,297.0 349.0,297.8 349.7,298.1 350.4,299.6 350.8,303.3 351.2,301.5 351.8,296.0 352.5,297.1 352.9,294.9 353.2,298.9 353.6,306.1 354.0,316.5 354.6,320.2 355.3,332.7 356.0,339.4 356.7,338.7 357.4,340.9 358.1,340.4 358.8,335.4 359.5,344.0 360.2,336.6 360.9,335.3 361.6,341.1 362.3,336.7 363.0,332.0 363.7,338.1 364.4,339.1 365.1,336.8 365.8,330.7 366.5,338.8 367.2,339.5 367.9,337.8 368.6,337.7 369.3,338.7 370.0,334.3 370.7,332.9 371.1,317.2 371.4,312.0 371.8,312.1 372.2,319.5 372.8,323.1 373.2,315.1 373.6,316.3 374.2,323.3 374.9,325.9 375.6,326.5 376.3,322.6 377.0,327.4 377.7,322.7 378.3,323.7 379.0,321.2 379.7,321.2 380.4,320.0 381.1,320.9 381.8,320.2 382.5,320.3 383.2,318.9 383.9,319.7 384.6,317.7" stroke="#1fc8ea" stroke-width="1.8"/>
<polyline points="344.5,348.5 345.0,349.7 345.5,349.9 346.2,349.0 346.9,347.8 347.6,347.7 348.3,345.7 349.0,345.6 349.7,345.8 350.4,344.8 351.1,345.0 351.8,344.0 352.5,342.8 353.2,344.1 353.9,343.0 354.6,343.6 355.3,343.7 356.0,343.6 356.7,343.4 357.4,344.9 358.1,345.1 358.8,346.2 359.5,347.0 360.2,349.0 360.9,351.4 361.6,353.2 362.3,354.1 363.0,356.1 363.7,354.8 364.4,356.0 365.1,356.8 365.8,359.0 366.5,356.9 367.2,354.4 367.9,352.5 368.6,352.0 369.3,349.7 370.0,349.0 370.7,350.0 371.4,347.5 372.1,345.7 372.8,347.6 373.5,348.6 374.2,346.3 374.9,349.8 375.6,354.4 376.3,358.1 377.0,363.0 377.7,366.5 378.3,372.8 379.0,374.9 379.7,374.2 380.4,369.4 381.1,372.8 381.8,371.0 382.5,369.9 383.2,366.7 383.9,366.5 384.6,365.6 385.3,365.7 385.9,363.8 386.5,363.1 387.1,361.4 387.8,360.6 388.4,358.9 389.0,358.9 389.7,357.5 390.3,357.6 390.9,358.0 391.5,359.2 392.2,360.2 392.8,355.5 393.4,360.2 394.1,356.9 394.7,358.0 395.3,355.5 395.9,362.5 396.3,372.1 396.6,362.5 396.9,350.4 397.3,347.4 397.8,345.5 398.5,343.8 399.1,342.8 399.7,343.7 400.1,352.0 400.6,357.7 401.0,350.4 401.6,347.5 402.2,344.1 402.9,346.2 403.5,349.4 404.1,351.3 404.7,350.4 405.4,348.9 406.0,346.7 406.6,343.0 407.3,341.9 407.9,340.6 408.5,342.2 409.1,343.8 409.8,345.5 410.4,344.5 411.0,346.0 411.7,346.3 412.3,347.6 412.9,345.1 413.5,346.9 414.2,347.3 414.8,345.5 415.4,343.8 416.1,343.5 416.7,344.3 417.3,343.2 417.9,343.6 418.6,344.8 419.2,345.6 419.8,346.6 420.5,346.9 421.1,346.7 421.7,347.6 422.3,346.0 423.0,346.7 423.6,348.0 424.2,346.2 424.9,350.6 425.5,347.5 426.1,344.3 426.7,339.9 427.4,339.3 428.0,339.5 428.6,338.7 429.3,339.9 429.9,339.3 430.5,337.5 431.1,336.7 431.8,335.4 432.4,335.6 433.0,336.3 433.7,337.9 434.3,336.9 434.9,338.1 435.5,338.1 436.2,338.0 436.8,338.8 437.4,338.6 438.1,338.3 438.7,338.1 439.3,336.9 439.9,338.0 440.6,336.8" stroke="#ff0000" stroke-width="2.1"/>
</g>
<rect x="59.8" y="282.6" width="389.70" height="104.10" fill="none" stroke="#262626" stroke-width="1.15"/>
<line x1="124.5" y1="386.7" x2="124.5" y2="383.7" stroke="#262626" stroke-width="1.0"/>
<line x1="124.5" y1="282.6" x2="124.5" y2="285.6" stroke="#262626" stroke-width="1.0"/>
<line x1="205.8" y1="386.7" x2="205.8" y2="383.7" stroke="#262626" stroke-width="1.0"/>
<line x1="205.8" y1="282.6" x2="205.8" y2="285.6" stroke="#262626" stroke-width="1.0"/>
<line x1="287.1" y1="386.7" x2="287.1" y2="383.7" stroke="#262626" stroke-width="1.0"/>
<line x1="287.1" y1="282.6" x2="287.1" y2="285.6" stroke="#262626" stroke-width="1.0"/>
<line x1="368.40000000000003" y1="386.7" x2="368.40000000000003" y2="383.7" stroke="#262626" stroke-width="1.0"/>
<line x1="368.40000000000003" y1="282.6" x2="368.40000000000003" y2="285.6" stroke="#262626" stroke-width="1.0"/>
<g clip-path="url(#cp2)" fill="none" stroke-width="1.7" stroke-linejoin="round">
<polyline points="75.9,466.7 76.3,466.7 76.7,465.5 77.1,467.2 77.5,467.8 78.0,467.6 78.4,466.1 78.9,465.9 79.4,464.5 80.0,464.5 80.5,463.7 81.0,464.7 81.5,464.9 82.0,465.7 82.6,465.5 83.1,466.4 83.6,466.3 84.1,466.0 84.7,464.7 85.2,466.0 85.7,465.6 86.2,466.1 86.8,465.3 87.3,465.9 87.8,465.6 88.3,465.7 88.9,464.8 89.4,465.0 89.9,464.2 90.4,465.3 91.0,465.3 91.5,465.1 92.0,463.5 92.5,464.6 93.0,464.6 93.6,464.9 94.1,464.2 94.6,465.5 95.1,466.1 95.7,467.4 96.2,467.6 96.7,467.6 97.2,466.4 97.8,466.8 98.3,465.5 98.8,465.2 99.3,463.4 99.9,463.4 100.4,462.2 100.9,463.6 101.4,464.0 102.0,463.7 102.5,462.3 103.0,462.6 103.5,461.4 104.2,459.8 104.8,466.6 105.2,468.7 105.6,469.6 106.1,469.8 106.7,468.9 107.2,469.3 107.7,469.0 108.2,469.5 108.8,468.3 109.3,469.3 109.8,469.1 110.3,467.0 110.9,463.6 111.4,464.6 111.9,464.5 112.4,466.2 113.0,466.7 113.5,466.2 114.0,465.0 114.5,464.9 115.0,463.5 115.6,465.1 116.1,465.6 116.6,464.9 117.1,463.6 117.7,463.4 118.2,461.9 118.7,461.2 119.2,459.2 119.8,461.5 120.3,462.3 120.8,465.8 121.3,467.7 121.9,467.9 122.4,466.4 122.9,467.8 123.4,467.5 124.0,467.2 124.5,465.6 125.1,452.4 125.7,458.1 126.2,462.9 126.6,443.7 127.2,442.2 127.8,444.5 128.2,445.7 128.7,445.5 129.3,454.4 129.9,464.6 130.6,460.8 131.2,454.1 131.8,462.9 132.4,458.4 132.9,457.7 133.3,456.0 133.7,463.2 134.1,468.6 134.5,463.0 135.0,468.8 135.4,475.7 135.8,474.5 136.2,474.6 136.6,473.6 137.0,473.4 137.6,473.0 138.1,474.0 138.6,472.8 139.1,473.1 139.7,472.2 140.2,472.5 140.7,471.2 141.2,471.3 141.8,470.3 142.3,470.2 142.8,469.1 143.3,469.1 143.9,467.6 144.4,467.4 144.9,468.4 145.4,470.4 146.0,467.6 146.5,466.3 147.0,464.5 147.5,464.0 148.0,462.5 148.6,462.1 149.1,459.7 149.6,458.7 150.1,458.4 150.7,458.7 151.2,461.0 151.7,464.0 152.2,464.7 152.8,466.3 153.3,465.5 153.8,466.0 154.3,466.1 154.9,467.1 155.4,467.1 155.9,468.1 156.4,467.3 157.0,467.1 157.5,466.1 158.0,466.2 158.5,465.0 159.0,464.9 159.6,462.9 160.1,462.1 160.6,460.2 161.1,460.0 161.7,457.9 162.2,456.7 162.7,453.7 163.2,451.6 163.8,449.5 164.3,448.4 164.8,448.4 165.3,449.5 165.9,447.3 166.4,446.1 167.0,441.5 167.4,445.1 167.8,447.6 168.5,449.3 169.0,447.8 169.5,447.3 170.2,442.3 170.6,441.4 171.0,439.3 171.6,435.8 172.2,450.8 172.7,442.2 173.3,442.6" stroke="#666666" stroke-width="1.7"/>
<polyline points="242.2,432.4 242.6,432.6 243.0,431.8 243.6,435.6 244.2,440.1 244.7,438.9 245.1,436.7 245.5,436.4 245.9,434.5 246.3,435.6 246.8,435.1 247.3,435.1 247.8,433.6 248.3,434.0 248.9,432.5 249.4,433.0 249.9,431.5 250.4,432.6 251.0,432.4 251.5,432.3 252.0,430.6 252.5,431.6 253.0,431.4 253.6,431.8 254.1,430.3 254.6,429.7 255.1,427.2 255.7,429.1 256.2,429.4 256.7,430.7 257.2,430.6 257.8,431.9 258.3,431.7 258.8,432.2 259.3,430.9 259.9,432.6 260.4,432.8 260.9,432.9 261.4,431.5 262.0,432.6 262.5,432.8 263.0,433.8 263.5,433.9 264.0,434.0 264.6,432.6 265.1,434.0 265.6,434.1 266.1,434.1 266.7,432.4 267.2,434.2 267.7,434.8 268.2,434.9 268.8,433.8 269.3,433.9 269.8,432.6 270.3,433.8 270.9,433.6 271.4,433.8 271.9,432.8 272.4,434.0 273.0,433.7 273.5,433.3 274.0,431.6 274.5,433.0 275.0,432.4 275.6,432.8 276.1,431.6 276.6,432.6 277.1,432.4 277.7,432.4 278.2,431.1 278.7,432.5 279.2,432.7 279.8,432.7 280.3,431.7 280.8,432.6 281.3,432.6 281.9,432.9 282.4,431.5 282.9,432.6 283.4,432.5 284.0,432.6 284.5,431.6 285.0,432.9 285.5,432.4 286.0,432.7 286.6,431.4 287.1,432.0 287.6,431.1 288.1,431.0 288.7,429.3 289.2,429.2 289.7,427.4 290.3,425.0 290.8,426.8 291.2,430.1 291.8,427.3 292.4,426.1 292.9,424.2 293.3,424.1 293.9,419.2 294.5,428.1 295.0,425.2 295.4,423.8 295.8,419.1 296.2,415.6 296.8,411.7 297.5,423.8 297.9,442.3 298.5,453.4 299.1,461.0 299.8,465.6 300.4,469.4 301.0,466.7 301.7,463.9 302.3,471.9 302.9,477.8 303.5,469.8 304.2,465.1 304.8,467.7 305.4,463.1 306.0,463.3 306.5,461.8 307.0,461.2 307.5,459.0 308.0,456.3 308.6,452.4 309.2,442.5 309.6,443.7 310.0,445.9 310.5,445.8 310.9,447.0 311.3,444.6 311.7,443.7 312.2,444.8 312.8,446.8 313.3,446.9 313.8,447.8 314.3,448.3 314.9,449.9 315.4,447.6 315.9,447.0 316.4,445.4 317.0,444.8 317.6,439.9 318.0,441.5 318.4,442.1 319.0,437.3 319.7,434.6 320.1,436.7 320.5,437.8 320.9,440.3 321.4,440.8 321.8,443.1 322.2,444.1 322.7,446.7 323.2,448.4 323.9,453.4 324.3,456.6 324.7,461.4 325.1,462.5 325.5,464.8 326.0,465.2 326.4,466.9 326.9,464.4 327.4,463.7 328.0,462.5 328.5,462.8 329.0,462.5 329.5,463.5 330.0,462.0 330.6,461.4 331.1,461.3 331.6,462.6 332.1,460.8 332.7,460.7 333.2,460.7 333.7,462.5 334.2,461.5 334.8,461.7 335.3,461.3 335.8,462.6 336.3,461.1 336.9,461.0 337.4,460.8 337.9,461.4 338.4,461.5 339.0,462.5 339.0,461.6 339.4,462.9 339.8,462.6" stroke="#fcaa00" stroke-width="2.0"/>
<polyline points="319.0,461.7 319.6,465.5 320.1,462.8 320.6,464.1 321.1,461.7 321.7,463.5 322.2,461.2 322.7,462.3 323.2,460.6 323.8,461.7 324.3,459.5 324.8,460.7 325.3,458.8 325.9,459.1 326.4,456.7 326.9,458.3 327.4,455.6 328.0,457.2 328.5,454.1 329.0,454.9 329.5,452.5 330.0,454.6 330.6,451.6 331.1,453.6 331.6,450.1 332.1,452.1 332.7,449.3 333.2,451.1 333.7,448.6 334.2,449.9 334.8,446.8 335.3,447.0 335.8,444.5 336.3,445.8 336.9,442.2 337.4,443.9 337.9,441.1 338.4,441.9 339.0,439.7 339.0,442.6 339.4,438.7 339.8,439.3 340.2,437.4 340.6,437.6 340.9,438.2 341.3,440.9 341.7,442.9 342.1,449.5 342.5,450.3 342.9,455.1 343.3,451.9 343.7,451.9 344.0,448.1 344.4,449.1 344.8,445.7 345.2,445.4 345.6,441.9 346.0,443.1 346.4,439.5 346.8,440.9 347.2,440.6 347.5,445.0 347.9,444.5 348.3,449.7 348.7,448.9 349.1,452.8 349.5,450.3 349.9,451.3 350.3,449.5 350.7,451.0 351.0,449.0 351.4,452.8 351.8,450.0 352.2,453.6 352.6,450.0 353.0,452.1 353.4,447.7 353.8,448.8 354.2,447.8 354.5,452.0 354.9,449.7 355.3,450.0 355.7,446.2 356.1,445.5 356.5,440.1 356.9,440.3 357.3,436.4 357.7,436.0 358.0,436.0 358.4,439.2 358.8,435.2 359.2,435.5 359.6,428.6 360.0,425.6 360.5,421.5 361.1,431.9 361.5,434.7 361.9,438.7 362.3,437.2 362.7,442.6 363.1,442.0 363.5,442.7 363.9,438.9 364.3,440.2 364.7,435.8 365.0,436.2 365.4,433.2 365.8,433.4 366.2,429.4 366.6,430.8 367.0,427.4 367.4,429.3 367.8,426.5 368.2,427.5 368.5,424.6 368.9,425.8 369.3,422.3 369.7,425.0 370.1,423.0 370.5,425.9 370.9,425.1 371.3,428.1 371.7,427.1 372.0,429.3 372.4,427.5 372.8,430.3 373.2,428.7 373.6,430.8 374.0,430.0 374.4,432.7 374.8,431.1 375.1,434.0 375.5,432.6 375.9,434.9 376.3,433.4 376.7,435.7 377.1,434.6 377.5,436.8 377.9,435.8 378.3,438.5 378.6,436.6 379.0,439.8 379.4,438.3 379.8,440.9 380.2,439.4 380.6,442.6 381.0,441.3 381.4,442.2 381.8,437.9 382.1,440.9 382.5,438.8 382.9,440.7 383.3,437.4 383.7,439.8 384.1,438.6 384.6,440.5 385.1,439.2 385.6,441.9 386.1,439.4 386.6,441.1 387.1,438.5 387.6,440.2 388.1,436.8 388.5,440.9 388.9,441.0 389.3,439.4 389.7,435.1 390.1,435.4 390.4,433.3 390.8,437.1 391.2,436.0 391.6,435.7 392.0,432.2 392.4,436.5 392.8,437.5 393.2,438.1 393.6,434.0 393.9,438.6 394.3,438.7 394.7,439.7 395.1,436.1 395.5,439.5 395.9,438.2 396.3,439.4 396.7,436.4 397.1,439.1 397.4,438.9 397.8,440.2 398.2,437.4 398.6,439.7 399.0,437.7 399.4,440.7 399.8,439.4 400.2,440.3 400.6,437.8 400.9,441.5 401.3,440.4 401.7,443.1 402.1,440.1 402.5,441.6 402.9,439.8 403.3,441.8 403.7,440.4 404.0,441.6 404.4,438.4 404.8,441.2 405.2,439.1 405.6,440.9 406.0,437.1 406.4,440.2 406.8,438.2 407.2,439.5 407.5,437.3 407.9,438.7 408.3,437.1 408.7,440.1 409.1,439.3 409.5,440.2 409.9,437.4 410.3,439.4 410.7,436.3 411.0,439.2 411.4,437.8 411.8,439.1 412.2,435.7 412.6,439.5 413.0,437.9 413.4,439.9 413.8,436.1 414.2,440.4 414.5,438.9" stroke="#b3b3b3" stroke-width="1.8"/>
<polyline points="321.1,432.4 321.7,434.5 322.2,433.0 322.7,433.4 323.2,430.9 323.8,433.2 324.3,432.7 324.8,435.1 325.3,434.6 325.9,435.0 326.4,433.4 326.9,435.8 327.4,435.8 328.0,436.4 328.5,434.1 329.0,436.8 329.5,436.2 330.0,437.2 330.6,434.7 331.1,436.8 331.6,436.6 332.1,436.2 332.7,433.7 333.2,437.2 333.7,437.4 334.2,436.9 334.8,434.3 335.3,434.1 335.8,431.5 335.9,431.2 336.3,429.5 336.7,429.6 337.1,427.8 337.4,428.5 337.8,426.7 338.2,427.2 338.6,424.4 339.0,423.5 339.4,422.9 339.8,425.1 340.2,426.4 340.6,430.0 340.9,430.3 341.3,433.1 341.7,432.1 342.1,433.9 342.5,433.3 342.9,434.9 343.3,433.9 343.7,435.0 344.0,433.8 344.4,434.9 344.8,432.8 345.2,433.8 345.6,431.4 346.0,431.3 346.4,429.7 346.8,430.6 347.2,430.2 347.5,431.2 347.9,430.2 348.3,430.9 348.7,429.5 349.1,431.8 349.5,429.7 349.9,429.7 350.3,428.6 350.7,430.7 351.0,429.3 351.4,430.1 351.8,428.2 352.2,429.3 352.6,428.7 353.0,430.6 353.4,429.0 353.8,430.0 354.2,429.3 354.5,431.5 354.9,429.6 355.3,430.4 355.7,429.4 356.1,431.0 356.5,428.7 356.9,429.5 357.3,428.1 357.7,430.1 358.0,427.8 358.4,428.2 358.8,427.9 359.2,429.4 359.6,428.5 360.0,429.6 360.4,428.0 360.8,429.3 361.2,428.7 361.5,430.0 361.9,428.2 362.3,428.8 362.7,426.9 363.1,428.1 363.5,425.4 363.9,425.7 364.3,424.5 364.7,425.7 365.0,422.2 365.4,421.9 365.8,418.7 366.2,417.3 366.6,415.0 367.0,414.5 367.4,412.1 367.8,412.6 368.2,409.9 368.5,410.1 368.9,405.7 369.3,404.8 369.8,410.4 370.4,407.0 371.0,407.0 371.7,411.0 372.0,407.4 372.4,406.5 372.8,403.6 373.2,403.7 373.6,403.2 374.0,405.1 374.4,406.3 374.8,410.1 375.1,407.1 375.5,406.5 375.9,404.2 376.3,404.9 376.7,405.4 377.1,408.2 377.5,405.0 377.9,403.4 378.3,403.5 378.6,407.1 379.0,402.4 379.4,400.4 379.8,404.2 380.2,409.8 380.7,397.7 381.3,397.3 381.9,407.1 382.2,431.4 382.8,428.3 383.5,436.5 384.1,438.1 384.7,443.6 385.0,429.0 385.4,434.3 385.8,438.3 386.2,447.2 386.6,453.5 386.9,458.4 387.3,461.0 387.7,466.7 388.1,468.9 388.5,473.9 388.9,475.5 389.3,480.1 389.7,481.1 390.1,486.3 390.4,488.1 390.9,492.5 391.5,478.0 392.0,462.3 392.5,453.2 393.1,452.0 393.6,457.1 394.0,448.8 394.6,442.4 395.1,450.4 395.6,452.4 396.2,444.4 396.7,453.9 397.1,457.6 397.8,445.4 398.4,451.7 399.0,441.4 399.4,445.4 399.8,447.2 400.2,454.7 400.9,450.0 401.5,445.7 402.1,452.1 402.5,450.9 402.9,447.7 403.3,450.6 403.7,450.6 404.0,449.8 404.4,445.7 404.8,448.7 405.2,449.2 405.6,447.9 406.0,444.6 406.4,447.1 406.8,447.2 407.2,447.9 407.5,445.2 407.9,444.9 408.3,442.4 408.7,442.9 409.1,441.4 409.5,445.5 409.9,447.4 410.3,447.5 410.7,444.6 411.0,446.7 411.4,445.8 411.8,449.1 412.2,450.7 412.6,455.2 413.0,456.9 413.5,464.1 413.9,458.6 414.5,454.9 415.2,445.6 415.8,439.5 416.4,441.2 417.0,443.9" stroke="#0000cc" stroke-width="1.8"/>
<polyline points="286.6,438.0 287.1,441.2 287.6,439.7 288.1,441.4 288.7,438.7 289.2,440.7 289.7,439.4 290.2,440.5 290.8,438.1 291.3,440.7 291.8,439.0 292.3,441.1 292.9,438.4 293.4,440.4 293.9,437.0 294.4,439.5 295.0,438.5 295.5,440.6 296.0,437.3 296.5,440.3 297.0,439.6 297.6,441.3 298.1,438.8 298.6,441.6 299.1,439.9 299.7,442.9 300.2,442.7 300.7,443.1 301.2,440.3 301.8,442.6 302.3,440.9 302.8,442.8 303.3,439.6 303.9,441.2 304.4,438.8 304.9,438.6 305.4,436.0 306.0,437.4 306.5,433.7 307.1,432.4 307.7,438.9 308.2,439.4 308.6,435.9 309.1,437.1 309.6,433.6 310.1,437.6 310.7,438.7 311.2,438.2 311.7,435.2 312.2,438.3 312.8,436.6 313.3,438.2 313.8,436.2 314.3,439.8 314.9,437.9 315.4,439.2 315.9,436.5 316.4,438.8 317.0,437.5 317.5,438.5 318.0,435.4 318.5,438.2 319.0,436.9 319.6,436.9 320.1,433.1 320.6,433.8 321.1,430.2 321.7,430.4 322.2,427.7 322.7,430.2 323.2,428.4 323.8,428.9 324.3,425.9 324.8,428.1 325.3,427.9 325.9,430.5 326.4,430.0 326.9,430.6 327.4,427.3 328.0,431.4 328.5,430.7 329.0,431.7 329.5,427.8 330.0,430.9 330.6,430.0 331.1,430.1 331.6,427.1 332.1,430.5 332.7,431.2 333.2,431.1 333.7,427.3 334.2,428.5 334.8,424.5 335.3,428.6 335.8,430.2 336.3,429.8 336.9,425.5 336.7,427.1 337.1,423.5 337.4,424.6 337.8,420.9 338.2,420.8 338.7,412.5 339.3,408.3 339.8,403.2 340.2,402.2 340.6,398.7 341.0,403.8 341.5,405.6 342.1,410.4 342.5,409.3 342.9,413.2 343.3,406.1 344.0,412.8 344.6,408.2 345.2,414.3 345.7,407.2 346.1,416.7 346.8,430.5 347.2,443.3 347.7,453.2 348.3,464.7 348.9,470.9 349.6,469.7 350.2,465.3 350.8,465.5 351.4,463.0 351.8,463.3 352.2,461.0 352.7,456.2 353.3,449.7 353.9,448.9 354.5,443.6 355.2,444.0 355.8,445.3 356.4,450.4 357.0,442.2 357.7,448.8 358.3,443.3 358.9,443.2 359.5,445.0 360.1,451.8 360.8,445.9 361.4,443.8 362.0,438.2 362.6,443.3 363.3,447.3 363.9,446.3 364.5,439.6 365.1,439.8 365.7,444.2 366.4,451.8 367.0,445.1 367.6,442.9 368.2,446.5 368.9,454.8 369.5,450.4 370.1,457.7 370.7,450.5 371.3,458.9 372.0,462.5 372.6,458.2 373.2,465.9 373.8,461.7 374.4,463.9 375.1,462.5 375.7,470.9 376.3,467.2 376.7,463.7 377.1,464.8 377.5,463.7 377.9,465.7 378.3,464.0 378.6,465.5 379.0,463.4 379.4,465.7 379.8,464.0 380.2,464.9 380.6,463.2 381.0,466.1 381.4,463.4 381.8,465.4 382.1,463.4 382.5,465.4 383.2,462.6 383.8,464.6" stroke="#1fc8ea" stroke-width="1.8"/>
<polyline points="344.4,429.1 344.8,429.0 345.2,428.4 345.6,429.5 346.0,430.0 346.4,429.2 346.8,427.5 347.2,428.6 347.5,429.1 347.9,430.3 348.3,430.6 348.7,432.4 349.1,432.9 349.5,434.2 349.9,434.5 350.3,435.4 350.7,435.2 351.0,436.0 351.4,436.0 351.8,436.8 352.2,437.0 352.6,436.9 353.0,436.0 353.4,437.0 353.8,436.9 354.2,437.0 354.5,436.2 354.9,436.2 355.3,435.4 355.7,435.4 356.1,434.7 356.5,434.4 356.9,433.9 357.3,433.8 357.7,433.0 358.0,433.1 358.4,432.1 358.8,431.8 359.2,430.6 359.6,430.6 360.0,429.8 360.4,429.8 360.8,429.0 361.2,428.7 361.5,427.6 361.9,427.6 362.3,426.9 362.7,426.7 363.1,426.0 363.5,427.2 363.9,427.7 364.3,428.3 364.7,428.4 365.0,428.4 365.4,427.4 365.8,426.7 366.2,425.2 366.6,424.4 367.0,422.8 367.4,422.2 367.8,420.5 368.2,419.8 368.5,418.4 368.9,417.7 369.3,416.8 369.7,417.4 370.1,417.6 370.5,416.8 370.9,415.2 371.3,415.2 371.7,414.3 372.0,415.2 372.4,415.0 372.8,415.2 373.2,414.4 373.6,415.1 374.0,415.2 374.4,415.8 374.8,416.0 375.1,415.9 375.5,415.1 375.9,415.2 376.3,414.3 376.7,415.2 377.1,415.1 377.5,415.9 377.9,415.8 378.3,415.4 378.6,414.5 379.0,414.3 379.4,413.6 379.8,414.3 380.2,414.5 380.6,413.9 381.0,412.9 381.4,413.6 381.8,413.7 382.1,413.1 382.5,412.0 382.9,411.2 383.3,409.8 383.7,410.6 384.1,410.5 384.5,411.4 384.9,411.2 385.3,411.3 385.6,410.5 386.1,411.1 386.6,411.1 387.1,411.8 387.6,411.6 388.1,412.0 388.6,411.3 389.1,411.4 389.7,410.5 390.1,409.4 390.4,407.3 390.9,401.5 391.5,395.7 392.0,395.8 392.5,394.8 393.0,395.3 393.6,395.3 394.1,395.8 394.6,395.8 395.3,396.8 395.6,404.3 395.9,415.4 396.4,427.6 396.8,438.7 397.4,450.8 397.8,456.8 398.2,461.9 398.6,466.8 399.0,471.0 399.4,475.3 399.8,478.8 400.2,480.7 400.6,482.0 401.0,476.2 401.6,466.4 402.0,463.0 402.4,458.6 402.9,456.8 403.3,454.1 403.9,452.4 404.4,450.2 404.8,449.4 405.2,447.9 405.6,447.3 406.0,446.3 406.4,446.1 406.8,445.5 407.2,446.2 407.5,446.2 407.9,448.3 408.3,449.3 408.7,449.3 409.1,448.6 409.5,449.4 409.9,449.4 410.3,450.2 410.7,450.0 411.0,450.3 411.4,449.7 411.8,450.2 412.2,450.2 412.6,450.2 413.0,449.5 413.4,450.4 413.8,450.9 414.2,450.5 414.5,449.3 414.9,450.0 415.3,450.2 415.7,449.3 416.1,447.7 416.5,447.4 416.9,446.4 417.3,446.3 417.7,445.4 418.0,445.4 418.4,444.8 418.8,445.3 419.2,445.3 419.6,445.3 420.0,444.8 420.4,444.2 420.8,443.0 421.2,443.2 421.5,442.3 421.9,442.6 422.3,441.8 422.7,442.8 423.1,443.2 423.5,445.9 423.9,447.7 424.3,450.6 424.7,452.4 425.0,453.5 425.4,454.0 425.8,454.9 426.2,454.7 426.6,455.9 427.0,456.4 427.4,456.5 427.8,455.6 428.2,453.5 428.5,450.8 428.9,449.0 429.3,446.3 429.8,443.5 430.4,447.1 430.9,449.8 431.3,445.5 432.0,449.0 432.6,452.3 433.2,454.4 433.6,454.4 434.0,455.1 434.4,455.6 434.8,456.6 435.1,455.9 435.5,455.9 435.9,455.2 436.3,455.1 436.7,455.1 437.1,455.9 437.5,455.7 437.9,456.2 438.3,455.8 438.6,455.8 439.0,456.4 439.4,457.6 439.8,458.6 440.2,460.5 440.6,461.1 441.0,462.1" stroke="#ff0000" stroke-width="2.1"/>
<path d="M392.3 397 C392.3 391.3 399.3 391.3 399.3 397 L400.3 425 L401.5 436 L404.5 441 L406.5 451 L406.2 465 L404.2 473.5 C402.8 480.8 396.2 480.8 395.3 474 L393.8 455 L392.6 430 Z" fill="#ff00ff" fill-opacity="0.21" stroke="none"/>
</g>
<rect x="59.8" y="390.4" width="389.70" height="103.80" fill="none" stroke="#262626" stroke-width="1.15"/>
<line x1="124.5" y1="494.2" x2="124.5" y2="491.2" stroke="#262626" stroke-width="1.0"/>
<line x1="124.5" y1="390.4" x2="124.5" y2="393.4" stroke="#262626" stroke-width="1.0"/>
<line x1="205.8" y1="494.2" x2="205.8" y2="491.2" stroke="#262626" stroke-width="1.0"/>
<line x1="205.8" y1="390.4" x2="205.8" y2="393.4" stroke="#262626" stroke-width="1.0"/>
<line x1="287.1" y1="494.2" x2="287.1" y2="491.2" stroke="#262626" stroke-width="1.0"/>
<line x1="287.1" y1="390.4" x2="287.1" y2="393.4" stroke="#262626" stroke-width="1.0"/>
<line x1="368.40000000000003" y1="494.2" x2="368.40000000000003" y2="491.2" stroke="#262626" stroke-width="1.0"/>
<line x1="368.40000000000003" y1="390.4" x2="368.40000000000003" y2="393.4" stroke="#262626" stroke-width="1.0"/>
<g clip-path="url(#cp3)" fill="none" stroke-width="1.7" stroke-linejoin="round">
<polyline points="76.3,543.5 76.8,545.3 77.3,546.5 77.9,548.2 78.4,548.7 78.9,548.5 79.4,547.6 80.0,549.2 80.5,549.8 81.0,550.8 81.5,550.6 82.0,550.6 82.6,549.6 83.1,548.6 83.6,546.5 84.2,545.1 84.7,546.6 85.1,549.0 85.5,549.4 85.9,551.2 86.3,550.3 86.8,550.1 87.3,550.2 87.8,551.4 88.3,550.3 88.9,550.1 89.3,547.5 89.7,546.0 90.1,547.9 90.5,551.4 91.0,551.2 91.4,552.2 91.8,551.1 92.2,551.4 92.6,550.6 93.0,550.9 93.6,549.8 94.1,550.3 94.6,549.2 95.1,549.3 95.7,548.0 96.2,548.0 96.7,548.0 97.2,549.0 97.8,547.2 98.3,545.9 98.8,546.5 99.3,548.1 99.9,546.9 100.4,547.2 100.9,545.8 101.4,546.2 102.0,544.7 102.5,545.1 103.0,545.0 103.5,545.9 104.2,548.5 104.8,551.3 105.2,548.0 105.6,545.8 106.1,545.0 106.7,545.1 107.2,544.1 107.7,544.6 108.2,543.8 108.8,543.9 109.3,542.6 109.8,542.9 110.3,541.6 110.9,541.7 111.4,542.8 111.9,545.1 112.4,546.0 113.0,548.2 113.5,548.5 114.0,550.0 114.5,551.3 115.0,553.5 115.6,553.4 116.1,554.3 116.6,553.3 117.1,553.4 117.7,553.1 118.2,554.4 118.7,554.3 119.2,555.5 119.8,552.3 120.3,550.1 120.9,546.4 121.5,545.0 122.0,545.1 122.4,545.9 122.9,546.1 123.4,547.1 124.1,550.6 124.5,554.6 124.9,556.8 125.5,560.6 126.2,558.9 126.6,557.7 127.0,554.9 127.6,559.4 128.2,560.1 128.9,553.3 129.5,546.6 129.9,544.8 130.3,542.4 130.8,541.4 131.2,539.3 131.8,542.9 132.4,546.6 132.9,550.1 133.3,552.6 133.7,556.4 134.1,559.2 134.5,560.7 135.0,561.1 135.5,561.2 136.0,560.0 136.5,561.2 137.0,561.1 137.6,562.3 138.1,562.2 138.6,561.8 139.1,560.1 139.7,561.1 140.2,561.3 140.7,561.6 141.2,560.6 141.8,563.2 142.3,564.2 142.8,564.4 143.3,563.4 143.9,565.5 144.4,566.5 144.9,566.4 145.4,565.5 146.0,568.0 146.5,569.6 147.0,570.6 147.5,570.5 148.0,572.2 148.6,572.8 149.1,574.4 149.6,574.7 150.1,576.0 150.7,576.0 151.2,576.2 151.7,575.2 152.2,575.6 152.8,574.9 153.3,576.0 153.8,575.9 154.3,575.5 154.9,574.0 155.4,575.3 155.9,575.5 156.4,575.5 157.0,574.8 157.5,575.9 158.0,575.9 158.5,577.0 159.0,577.0 159.6,577.0 160.1,576.2 160.6,577.4 161.1,577.5 161.7,578.4 162.2,578.0 162.7,578.9 163.2,579.1 163.8,579.8 164.3,579.7 164.8,580.6 165.3,580.6 165.9,581.1 166.4,581.1 166.9,582.0 167.4,581.8 168.0,582.6 168.5,582.1 169.0,582.1 169.5,580.9 170.0,582.3 170.6,582.5 171.1,582.0 171.6,580.0 172.2,583.6" stroke="#666666" stroke-width="1.7"/>
<polyline points="242.6,535.6 243.1,535.7 243.6,534.9 244.1,537.0 244.7,537.5 245.2,542.5 245.7,546.1 246.2,544.0 246.8,540.5 247.3,542.9 247.8,543.6 248.3,546.2 248.9,547.0 249.4,544.8 249.9,541.6 250.4,540.6 251.0,538.8 251.6,545.6 252.0,541.0 252.4,538.3 253.0,542.6 253.6,544.9 254.1,546.1 254.6,548.0 255.1,548.8 255.7,546.9 256.2,544.0 256.7,544.8 257.2,545.1 257.8,545.8 258.3,546.0 258.8,546.1 259.3,545.4 259.9,546.8 260.4,546.7 260.9,546.5 261.4,544.7 262.0,546.6 262.5,546.9 263.0,548.3 263.5,548.0 264.0,545.9 264.6,542.8 265.1,541.7 265.6,539.7 266.1,540.0 266.7,538.6 267.2,538.5 267.7,537.5 268.2,538.9 268.8,538.6 269.3,538.8 269.8,537.7 270.3,537.5 270.9,536.4 271.4,537.5 271.9,537.6 272.4,537.8 273.0,537.0 273.5,538.0 274.0,538.4 274.5,538.2 275.0,536.4 275.6,537.9 276.1,537.5 276.6,538.1 277.1,536.7 277.7,538.5 278.2,538.6 278.7,539.0 279.2,538.3 279.8,539.5 280.3,539.5 280.8,539.6 281.3,538.4 281.9,539.8 282.4,539.6 282.9,539.9 283.4,538.5 284.0,539.6 284.5,539.7 285.0,540.4 285.5,540.5 286.0,540.8 286.6,539.6 287.1,541.0 287.6,540.5 288.1,541.0 288.7,540.0 289.2,541.5 289.7,541.1 290.2,541.4 290.8,540.7 291.3,541.7 291.8,541.8 292.3,541.9 292.9,541.0 293.4,542.3 293.9,541.8 294.4,540.9 295.0,538.5 295.5,535.0 296.0,530.0 296.6,532.9 297.0,548.9 297.7,555.8 298.3,561.4 298.9,564.2 299.6,551.4 300.2,560.4 300.8,555.2 301.4,552.9 302.1,557.3 302.7,566.4 303.3,576.5 304.0,581.1 304.6,588.7 305.2,581.4 305.8,576.4 306.5,572.7 307.1,570.0 307.7,579.2 308.4,595.4 309.0,587.6 309.6,582.7 310.1,584.3 310.7,584.8 311.2,584.6 311.7,583.4 312.2,584.8 312.8,584.5 313.3,584.5 313.8,582.5 314.3,584.1 314.9,584.6 315.4,585.0 315.9,583.6 316.4,583.6 317.0,582.7 317.5,584.5 318.0,584.5 318.5,584.2 319.0,582.7 319.6,584.4 320.1,584.7 320.6,584.7 321.1,583.4 321.7,584.9 322.2,584.7 322.7,583.6 323.2,581.5 323.8,579.7 324.3,576.4 324.8,575.9 325.3,574.5 325.9,576.1 326.4,575.9 326.9,576.7 327.4,576.2 328.0,578.0 328.5,578.5 329.0,578.4 329.5,577.5 330.0,577.3 330.6,576.5 331.1,578.0 331.6,578.5 332.1,579.0 332.7,578.0 333.2,578.5 333.7,577.2 334.2,578.4 334.8,578.5 335.3,579.6 335.8,579.4 336.3,579.8 336.9,579.0 337.4,580.3 337.9,580.4 338.4,580.6 339.0,579.5 339.4,581.6" stroke="#fcaa00" stroke-width="2.0"/>
<polyline points="319.0,510.7 319.7,508.5 320.1,506.8 320.5,509.1 321.1,505.4 321.7,507.2 322.2,504.0 322.7,508.0 323.2,508.5 323.8,512.1 324.3,511.8 324.8,515.2 325.3,513.9 325.9,516.7 326.4,515.5 326.9,518.4 327.4,517.3 328.0,520.2 328.5,520.2 329.0,522.5 329.5,522.2 330.0,525.4 330.6,524.5 331.1,527.6 331.6,526.0 332.1,528.8 332.7,527.4 333.2,529.9 333.7,530.2 334.2,533.0 334.8,532.0 335.3,533.7 335.8,532.3 336.3,535.9 336.9,535.3 337.2,538.5 337.7,537.7 338.1,539.2 338.5,539.2 338.9,541.2 339.3,540.5 339.7,542.7 340.1,542.6 340.5,544.8 340.9,544.9 341.3,547.3 341.7,545.7 342.1,548.6 342.6,546.8 343.0,547.3 343.4,546.0 343.8,546.6 344.2,546.5 344.6,548.2 345.0,547.9 345.4,549.8 345.8,547.8 346.2,549.3 346.6,547.2 347.0,548.3 347.5,547.5 347.9,550.5 348.3,549.4 348.7,551.3 349.1,549.6 349.5,550.8 349.9,549.7 350.3,552.1 350.7,550.0 351.1,551.2 351.5,550.8 351.9,553.3 352.4,552.7 352.8,555.5 353.2,552.7 353.6,553.8 354.0,553.7 354.4,556.8 354.8,555.1 355.2,555.4 355.6,555.2 356.0,558.6 356.4,557.4 356.8,559.8 357.3,557.8 357.7,558.8 358.1,556.5 358.5,558.8 358.9,555.8 359.3,556.1 359.8,550.1 360.3,553.7 360.9,558.4 361.3,561.1 361.7,561.8 362.2,566.7 362.9,558.1 363.5,558.0 364.2,561.3 364.8,568.4 365.3,572.4 365.8,583.2 366.3,584.4 366.8,587.2 367.5,583.8 368.0,586.5 368.6,584.0 369.1,586.2 369.6,584.6 370.2,587.0 370.7,585.0 371.3,587.0 371.8,585.1 372.4,585.9 372.9,585.1 373.5,586.8 374.0,585.1 374.5,586.7 375.1,585.8 375.6,587.9 376.2,586.0 376.7,587.5 377.3,584.8 377.8,587.1 378.4,584.9 378.9,587.6 379.4,586.0 380.0,587.5 380.5,585.2 381.1,587.5 381.6,585.1 382.2,586.9 382.7,586.3 383.2,587.0 383.8,585.6 384.3,587.9 384.9,586.1 385.4,586.9 386.0,585.6 386.5,587.4 387.1,584.9 387.7,587.5 388.3,585.1 388.9,587.7 389.6,585.4 390.2,587.0 390.9,586.5 391.5,588.1 392.2,585.8 392.8,587.4 393.5,586.2 394.1,587.2 394.8,585.8 395.5,587.3 396.1,585.5 396.8,586.7 397.4,585.7 398.1,586.5 398.7,585.7 399.4,586.6 400.0,585.5 400.7,586.8 401.3,585.3 402.0,587.3 402.6,585.5 403.3,587.2 403.9,585.5 404.6,586.3 405.3,585.6 405.9,586.6 406.6,585.1 407.2,586.3 407.9,585.0 408.5,587.0 409.2,585.5 409.8,586.7 410.5,585.2 411.1,586.6 411.8,584.8 412.4,586.4 413.1,585.5 413.7,586.2 414.4,584.3 415.0,586.4 415.6,585.4 416.2,587.3 416.8,585.0" stroke="#b3b3b3" stroke-width="1.8"/>
<polyline points="319.0,541.0 319.6,543.9 320.1,541.8 320.6,545.0 321.1,543.5 321.7,546.2 322.2,544.1 322.7,546.3 323.2,543.5 323.8,546.7 324.3,544.9 324.8,546.2 325.3,544.0 325.9,546.8 326.4,545.0 326.9,546.7 327.4,544.1 328.0,546.3 328.5,545.0 329.0,546.7 329.5,545.3 330.0,547.4 330.6,546.5 331.1,547.2 331.6,545.5 332.1,547.0 332.7,546.1 333.2,546.9 333.7,544.8 334.2,547.2 334.8,546.8 335.3,547.2 335.8,544.8 336.4,547.0 337.0,544.1 337.5,546.5 338.1,543.4 338.5,545.6 338.9,544.4 339.3,546.2 339.7,544.9 340.1,548.4 340.5,546.7 340.9,549.7 341.3,547.8 341.7,550.2 342.1,547.3 342.6,549.1 343.0,547.2 343.4,548.0 343.8,545.4 344.2,547.3 344.6,544.8 345.0,547.5 345.4,546.6 345.8,547.8 346.2,545.5 346.6,548.6 347.0,547.3 347.5,548.4 347.9,546.4 348.3,548.8 348.7,547.1 349.1,548.5 349.5,547.0 349.9,550.0 350.3,548.9 350.7,549.8 351.1,547.1 351.5,548.6 351.9,546.3 352.4,548.7 352.8,547.6 353.2,549.7 353.6,548.9 354.0,550.5 354.4,549.1 354.8,550.8 355.2,548.3 355.6,549.6 356.0,547.8 356.4,549.8 356.8,547.8 357.3,549.3 357.7,547.1 358.1,549.3 358.5,548.2 358.9,549.9 359.3,548.0 359.7,550.3 360.1,547.9 360.5,549.4 360.9,547.5 361.3,549.8 361.7,548.0 362.2,550.1 362.6,547.9 363.0,549.6 363.4,547.0 363.8,548.2 364.2,545.9 364.6,546.6 365.0,543.8 365.4,544.7 365.8,542.1 366.2,543.5 366.6,540.2 367.1,541.2 367.5,538.2 367.9,539.2 368.3,536.5 368.7,539.4 369.1,537.7 369.5,540.4 369.9,538.0 370.3,541.5 370.7,541.2 371.1,544.5 371.5,543.0 372.0,542.3 372.7,536.3 373.3,537.5 374.0,534.7 374.4,537.1 374.8,537.0 375.2,537.7 375.6,535.6 376.0,536.4 376.4,533.6 376.9,534.6 377.3,531.6 377.6,529.4 378.1,530.4 378.6,537.1 379.2,541.6 379.9,547.4 380.5,546.6 380.9,548.8 381.3,548.2 381.8,551.7 382.2,551.7 382.6,556.8 383.0,558.5 383.4,562.8 383.8,563.2 384.2,567.2 384.6,567.8 385.0,570.1 385.4,569.8 385.8,572.9 386.2,571.7 386.7,571.3 387.1,567.6 387.5,566.5 387.9,561.2 388.3,558.8 388.7,551.1 388.9,543.6 389.6,537.1 390.2,534.9 390.7,530.8 391.2,546.5 391.5,561.4 391.9,569.3 392.3,570.8 392.8,573.8 393.2,573.3 393.6,575.6 394.0,575.0 394.4,576.6 394.8,575.5 395.2,577.9 395.6,575.9 396.0,578.4 396.4,577.9 396.8,580.0 397.2,578.1 397.7,580.7 398.1,579.0 398.5,581.1 398.9,580.6 399.3,582.8 399.7,581.1 400.1,582.7 400.5,582.2 400.9,583.2 401.3,581.5 401.7,583.1 402.1,581.1 402.6,583.6 403.0,582.8 403.4,583.5 403.8,581.4 404.2,583.0 404.6,580.4 405.0,582.5 405.4,581.9 405.8,583.6 406.2,582.6 406.6,583.9 407.0,582.3 407.5,583.9 407.9,582.1 408.3,584.1 408.7,581.6 409.1,583.8 409.5,583.2 409.9,584.0 410.3,582.3 410.7,583.3 411.1,582.2 411.5,583.8 411.9,581.2 412.4,581.3 412.8,578.1 413.2,578.9 413.6,576.0 414.1,578.8 414.7,579.3 415.4,582.3 416.0,581.5 416.4,583.9 416.8,582.1" stroke="#0000cc" stroke-width="1.8"/>
<polyline points="287.0,548.6 287.6,552.3 288.1,551.0 288.7,553.6 289.2,552.0 289.7,554.2 290.2,552.2 290.8,553.8 291.3,552.8 291.8,553.9 292.3,552.6 292.9,553.5 293.4,552.3 293.9,553.3 294.4,551.2 295.0,552.9 295.5,552.2 296.0,553.5 296.5,552.0 297.0,552.7 297.6,551.7 298.1,554.6 298.6,551.4 299.1,552.3 299.7,549.1 300.2,548.9 300.7,546.7 301.2,546.7 301.8,545.0 302.3,546.0 302.8,545.4 303.3,547.9 303.9,545.6 304.4,545.7 304.9,544.7 305.4,547.0 306.0,545.0 306.5,546.6 307.0,545.7 307.5,547.2 308.0,547.1 308.6,549.4 309.1,548.9 309.6,552.1 310.1,551.0 310.7,553.1 311.2,552.0 311.7,553.9 312.2,552.4 312.8,554.3 313.3,553.2 313.8,555.3 314.3,553.7 314.9,554.1 315.4,553.3 315.9,554.5 316.4,553.3 317.0,553.7 317.5,552.5 318.0,553.3 318.5,551.4 319.0,551.9 319.6,549.3 320.1,549.9 320.6,547.1 321.1,547.3 321.7,544.2 322.2,545.3 322.7,542.3 323.2,543.1 323.8,541.2 324.3,541.9 324.8,541.0 325.3,542.6 325.9,540.5 326.4,542.0 326.9,541.0 327.4,542.6 328.0,540.8 328.5,541.7 329.0,540.2 329.5,541.9 330.0,539.9 330.6,540.2 331.1,540.0 331.6,541.7 332.1,539.3 332.7,541.0 333.2,539.7 333.7,542.0 334.2,540.3 334.8,541.5 335.3,539.1 335.8,540.3 336.3,538.3 336.9,540.1 337.2,541.3 337.7,541.7 338.1,538.3 338.5,539.0 338.9,537.1 339.4,535.4 340.0,528.7 340.5,527.7 341.0,527.1 341.3,535.5 341.8,540.0 342.3,546.9 343.0,543.3 343.5,548.4 343.9,545.2 344.6,543.4 345.1,550.3 345.6,549.9 346.2,545.3 346.7,551.5 347.2,558.7 347.9,562.9 348.3,562.0 348.7,564.5 349.1,563.6 349.5,566.6 349.9,566.1 350.3,568.5 350.7,568.2 351.1,571.6 351.5,571.2 351.9,573.8 352.4,572.4 352.8,574.6 353.2,574.2 353.6,575.9 354.0,576.1 354.4,579.5 354.8,578.6 355.2,580.8 355.6,580.8 356.0,584.5 356.4,583.7 356.8,586.3 357.3,583.0 357.7,582.7 358.1,580.8 358.5,582.3 358.9,580.4 359.3,582.5 359.7,580.8 360.1,582.1 360.5,580.8 360.9,583.3 361.3,581.2 361.7,582.2 362.2,582.2 362.6,584.0 363.0,583.2 363.4,584.6 363.8,584.5 364.2,585.5 364.6,583.3 365.0,584.4 365.4,581.7 365.8,583.1 366.2,581.5 366.6,583.8 367.1,582.5 367.5,584.4 367.9,582.7 368.3,583.4 368.7,582.0 369.1,582.6 369.5,581.6 369.9,584.8 370.3,580.1 370.7,578.9 371.1,575.8 371.5,576.1 372.0,568.0 372.7,574.4 373.2,576.0 373.7,580.8 374.3,575.0 375.0,579.3 375.6,571.7 376.3,575.8 376.9,577.4 377.6,576.3 378.2,576.1 378.9,576.7 379.3,576.1 379.7,578.1 380.1,575.9 380.5,576.7 380.9,575.9 381.3,577.6 381.8,575.8 382.2,577.4 382.6,576.5 383.0,578.1 383.4,576.1 383.8,577.2 384.2,575.9 384.6,578.1" stroke="#1fc8ea" stroke-width="1.8"/>
<polyline points="344.3,536.0 344.8,536.1 345.4,535.1 345.8,535.3 346.2,534.3 346.6,534.4 347.0,533.7 347.5,533.6 347.9,532.8 348.3,533.0 348.7,532.4 349.1,532.6 349.5,531.9 349.9,532.7 350.3,532.7 350.7,532.8 351.1,532.0 351.5,532.0 351.9,531.0 352.4,531.9 352.8,532.0 353.2,531.5 353.6,530.2 354.0,531.5 354.4,532.0 354.8,533.6 355.2,534.4 355.6,533.6 356.0,532.0 356.4,531.5 356.8,530.3 357.3,530.0 357.7,528.7 358.1,529.5 358.5,529.5 358.9,530.6 359.3,531.2 359.7,533.5 360.1,535.1 360.5,537.7 360.9,539.2 361.3,540.1 361.7,540.2 362.2,540.5 362.6,540.0 363.0,540.7 363.4,540.5 363.8,540.4 364.2,539.7 364.6,539.7 365.0,539.4 365.4,539.1 365.8,538.5 366.2,538.4 366.6,537.5 367.1,537.2 367.5,536.0 367.9,535.9 368.3,535.3 368.7,534.8 369.1,533.5 369.5,533.0 369.9,531.9 370.3,531.8 370.7,531.1 371.1,531.0 371.5,530.4 372.0,530.2 372.4,529.4 372.8,530.3 373.2,530.4 373.6,531.6 374.0,532.0 374.4,533.1 374.8,533.7 375.2,534.3 375.6,534.4 376.0,534.4 376.4,533.6 376.9,533.1 377.3,532.0 377.7,532.8 378.1,532.8 378.5,533.5 378.9,533.6 379.3,533.6 379.7,532.6 380.1,532.6 380.5,531.9 380.9,531.8 381.3,531.0 381.8,531.2 382.2,530.4 382.6,531.1 383.0,531.2 383.4,531.1 383.8,530.3 384.2,531.1 384.6,531.1 385.0,531.9 385.4,531.9 385.8,532.7 386.2,532.8 386.7,532.4 387.1,531.5 387.5,531.4 387.9,530.7 388.3,531.3 388.7,531.1 389.3,532.4 389.9,532.8 390.3,531.5 390.7,529.4 391.2,521.7 391.9,516.3 392.3,517.2 392.8,517.1 393.5,516.8 394.1,519.0 394.8,523.3 395.3,529.5 395.8,546.3 396.1,562.1 396.4,565.8 396.9,558.8 397.6,552.8 398.0,549.1 398.4,546.2 398.9,542.5 399.4,539.5 400.0,536.0 400.7,535.6 401.2,539.3 401.7,551.1 402.1,562.1 402.6,570.7 403.3,576.8 403.9,580.4 404.6,580.8 405.0,582.6 405.4,583.3 405.8,584.6 406.2,585.1 406.6,585.7 407.0,585.8 407.5,585.8 407.9,585.0 408.3,585.4 408.7,585.0 409.1,585.3 409.5,584.6 409.9,585.2 410.3,584.9 410.7,585.1 411.1,584.1 411.5,584.0 411.9,583.3 412.4,583.5 412.8,582.9 413.2,583.3 413.6,582.5 414.0,583.3 414.4,583.3 414.8,584.2 415.2,584.1 415.6,584.7 416.0,584.8 416.4,585.3 416.8,584.9 417.3,585.5 417.7,585.4 418.1,585.9 418.5,585.7 418.9,586.0 419.3,585.4 419.7,586.0 420.1,585.7 420.5,585.8 420.9,584.9 421.3,585.8 421.7,585.9 422.2,585.8 422.6,585.0 423.0,585.7 423.4,585.9 423.8,586.0 424.2,585.3 424.6,585.4 425.0,584.7 425.4,585.5 425.8,585.8 426.2,585.8 426.6,585.1 427.1,585.9 427.5,585.7 427.9,585.8 428.3,585.1 428.7,585.8 429.1,585.9 429.5,586.1 429.9,585.3 430.3,586.2 430.7,586.2 431.1,586.5 431.5,585.8 432.0,586.9 432.4,587.5 432.8,587.5 433.2,586.9 433.6,587.5 434.0,587.5 434.4,587.4 434.8,586.7 435.2,587.5 435.6,587.5 436.0,587.5 436.4,586.9 436.9,587.7 437.3,587.4 437.7,587.6 438.1,587.1 438.5,587.1 438.9,586.6 439.3,587.0 439.7,586.3 440.1,586.3 440.5,585.4" stroke="#ff0000" stroke-width="2.1"/>
</g>
<rect x="59.8" y="497.7" width="389.70" height="104.20" fill="none" stroke="#262626" stroke-width="1.15"/>
<line x1="124.5" y1="601.9" x2="124.5" y2="598.9" stroke="#262626" stroke-width="1.0"/>
<line x1="124.5" y1="497.7" x2="124.5" y2="500.7" stroke="#262626" stroke-width="1.0"/>
<line x1="205.8" y1="601.9" x2="205.8" y2="598.9" stroke="#262626" stroke-width="1.0"/>
<line x1="205.8" y1="497.7" x2="205.8" y2="500.7" stroke="#262626" stroke-width="1.0"/>
<line x1="287.1" y1="601.9" x2="287.1" y2="598.9" stroke="#262626" stroke-width="1.0"/>
<line x1="287.1" y1="497.7" x2="287.1" y2="500.7" stroke="#262626" stroke-width="1.0"/>
<line x1="368.40000000000003" y1="601.9" x2="368.40000000000003" y2="598.9" stroke="#262626" stroke-width="1.0"/>
<line x1="368.40000000000003" y1="497.7" x2="368.40000000000003" y2="500.7" stroke="#262626" stroke-width="1.0"/>
<line x1="59.8" y1="184.3" x2="62.8" y2="184.3" stroke="#262626" stroke-width="1.0"/>
<line x1="446.5" y1="184.3" x2="449.5" y2="184.3" stroke="#262626" stroke-width="1.0"/>
<text x="36.97" y="190.30" font-size="16.5" fill="#262626">17</text>
<line x1="59.8" y1="222.3" x2="62.8" y2="222.3" stroke="#262626" stroke-width="1.0"/>
<line x1="446.5" y1="222.3" x2="449.5" y2="222.3" stroke="#262626" stroke-width="1.0"/>
<text x="36.89" y="228.30" font-size="16.5" fill="#262626">13</text>
<line x1="59.8" y1="260.3" x2="62.8" y2="260.3" stroke="#262626" stroke-width="1.0"/>
<line x1="446.5" y1="260.3" x2="449.5" y2="260.3" stroke="#262626" stroke-width="1.0"/>
<text x="46.09" y="266.30" font-size="16.5" fill="#262626">9</text>
<text transform="translate(64.69 194.50) scale(0.93 1)" font-size="20" fill="#262626">(c)</text>
<text transform="translate(21.40 255.62) rotate(-90) scale(1.0182 1)" font-size="17.6" fill="#262626">|B| [nT]</text>
<line x1="59.8" y1="334.6" x2="62.8" y2="334.6" stroke="#262626" stroke-width="1.0"/>
<line x1="446.5" y1="334.6" x2="449.5" y2="334.6" stroke="#262626" stroke-width="1.0"/>
<text x="454.54" y="288.60" font-size="16.5" fill="#262626">5</text>
<text x="454.58" y="340.60" font-size="16.5" fill="#262626">0</text>
<text x="454.46" y="392.70" font-size="16.5" fill="#262626">-5</text>
<text transform="translate(64.69 302.00) scale(0.93 1)" font-size="20" fill="#262626">(d)</text>
<text transform="translate(497.80 363.34) rotate(-90) scale(1.0289 1)" font-size="17.6" fill="#262626">Bx [nT]</text>
<line x1="59.8" y1="406.7" x2="62.8" y2="406.7" stroke="#262626" stroke-width="1.0"/>
<line x1="446.5" y1="406.7" x2="449.5" y2="406.7" stroke="#262626" stroke-width="1.0"/>
<text x="46.20" y="412.70" font-size="16.5" fill="#262626">5</text>
<line x1="59.8" y1="434.1" x2="62.8" y2="434.1" stroke="#262626" stroke-width="1.0"/>
<line x1="446.5" y1="434.1" x2="449.5" y2="434.1" stroke="#262626" stroke-width="1.0"/>
<text x="46.16" y="440.10" font-size="16.5" fill="#262626">0</text>
<line x1="59.8" y1="461.6" x2="62.8" y2="461.6" stroke="#262626" stroke-width="1.0"/>
<line x1="446.5" y1="461.6" x2="449.5" y2="461.6" stroke="#262626" stroke-width="1.0"/>
<text x="40.72" y="467.60" font-size="16.5" fill="#262626">-5</text>
<line x1="59.8" y1="489.0" x2="62.8" y2="489.0" stroke="#262626" stroke-width="1.0"/>
<line x1="446.5" y1="489.0" x2="449.5" y2="489.0" stroke="#262626" stroke-width="1.0"/>
<text x="31.48" y="495.00" font-size="16.5" fill="#262626">-10</text>
<text transform="translate(64.69 409.30) scale(0.93 1)" font-size="20" fill="#262626">(e)</text>
<text transform="translate(19.10 471.14) rotate(-90) scale(1.0289 1)" font-size="17.6" fill="#262626">By [nT]</text>
<line x1="59.8" y1="505.5" x2="62.8" y2="505.5" stroke="#262626" stroke-width="1.0"/>
<line x1="446.5" y1="505.5" x2="449.5" y2="505.5" stroke="#262626" stroke-width="1.0"/>
<text x="454.46" y="511.50" font-size="16.5" fill="#262626">-5</text>
<line x1="59.8" y1="586.0" x2="62.8" y2="586.0" stroke="#262626" stroke-width="1.0"/>
<line x1="446.5" y1="586.0" x2="449.5" y2="586.0" stroke="#262626" stroke-width="1.0"/>
<text x="454.46" y="592.00" font-size="16.5" fill="#262626">-15</text>
<text transform="translate(65.49 517.60) scale(0.93 1)" font-size="20" fill="#262626">(f)</text>
<text transform="translate(498.60 578.55) rotate(-90) scale(1.0327 1)" font-size="17.6" fill="#262626">Bz [nT]</text>
<text x="103.88" y="621.80" font-size="16.5" fill="#262626">08:35</text>
<text x="185.15" y="621.80" font-size="16.5" fill="#262626">08:40</text>
<text x="266.48" y="621.80" font-size="16.5" fill="#262626">08:45</text>
<text x="347.75" y="621.80" font-size="16.5" fill="#262626">08:50</text>
<text x="429.08" y="621.80" font-size="16.5" fill="#262626">08:55</text>
<text transform="translate(220.08 639.00) scale(1.0443 1)" font-size="15.6" fill="#262626">Time [UT]</text>
</svg>
</body></html>
